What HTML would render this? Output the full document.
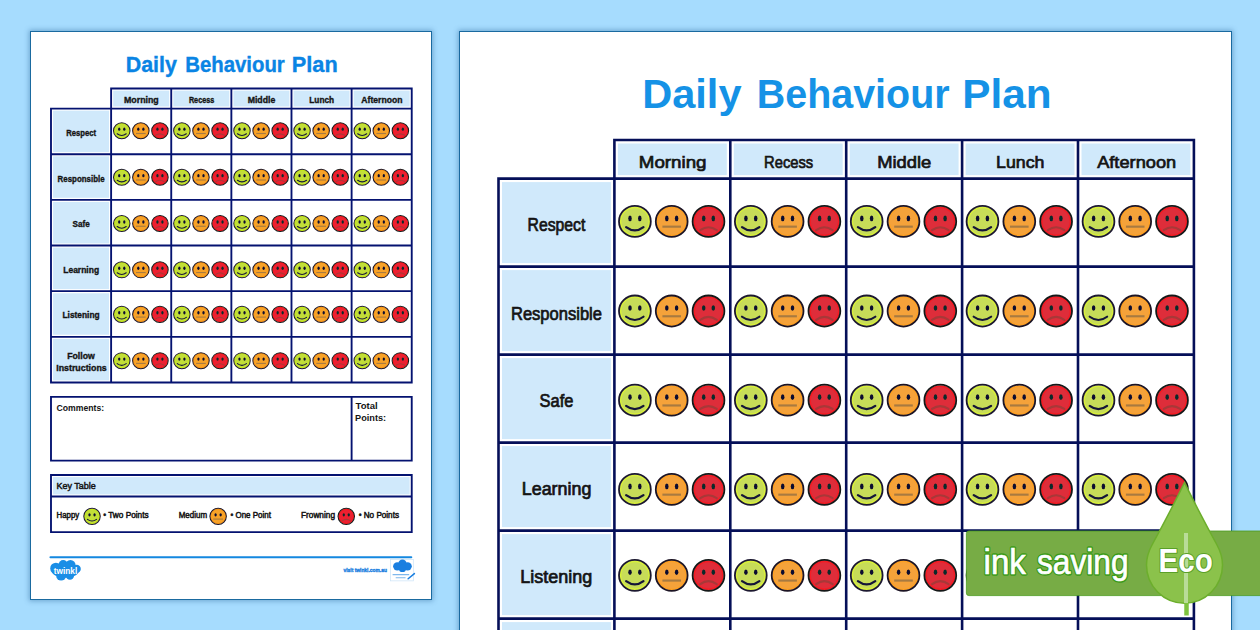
<!DOCTYPE html>
<html><head><meta charset="utf-8"><style>
html,body{margin:0;padding:0;}
body{width:1260px;height:630px;overflow:hidden;background:#a6dcfe;position:relative;font-family:"Liberation Sans", sans-serif;}
.pg{position:absolute;background:#fff;box-shadow:0 0 0 1px #1a6aa0, 0 0 5px 2px rgba(40,100,150,0.45);}
svg{display:block;}
</style></head><body>
<div class="pg" style="left:31px;top:32px;width:400px;height:567px;">
<svg width="400" height="567" viewBox="0 -1 771 1093"><rect x="0" y="0" width="771" height="1093" fill="#fff"/>
<text transform="translate(182.58,76.20) scale(1.0060,1)" font-family="Liberation Sans" font-weight="bold" font-size="41" fill="#0a84e4" stroke="#0a84e4" stroke-width="0.7" >Daily</text>
<text transform="translate(297.22,76.20) scale(0.9578,1)" font-family="Liberation Sans" font-weight="bold" font-size="41" fill="#0a84e4" stroke="#0a84e4" stroke-width="0.7" >Behaviour</text>
<text transform="translate(502.74,76.20) scale(1.0228,1)" font-family="Liberation Sans" font-weight="bold" font-size="41" fill="#0a84e4" stroke="#0a84e4" stroke-width="0.7" >Plan</text>
<rect x="158.4" y="112.0" width="107.9" height="30.6" fill="#d0e9fb"/>
<rect x="274.3" y="112.0" width="107.9" height="30.6" fill="#d0e9fb"/>
<rect x="390.2" y="112.0" width="107.9" height="30.6" fill="#d0e9fb"/>
<rect x="506.1" y="112.0" width="107.9" height="30.6" fill="#d0e9fb"/>
<rect x="622.0" y="112.0" width="107.9" height="30.6" fill="#d0e9fb"/>
<rect x="42.5" y="150.6" width="107.9" height="80.0" fill="#d0e9fb"/>
<rect x="42.5" y="238.6" width="107.9" height="80.0" fill="#d0e9fb"/>
<rect x="42.5" y="326.6" width="107.9" height="80.0" fill="#d0e9fb"/>
<rect x="42.5" y="414.6" width="107.9" height="80.0" fill="#d0e9fb"/>
<rect x="42.5" y="502.6" width="107.9" height="80.0" fill="#d0e9fb"/>
<rect x="42.5" y="590.6" width="107.9" height="80.0" fill="#d0e9fb"/>
<path d="M154.4,108.0H733.9000000000001M38.5,146.60H733.9000000000001M38.5,234.60H733.9000000000001M38.5,322.60H733.9000000000001M38.5,410.60H733.9000000000001M38.5,498.60H733.9000000000001M38.5,586.60H733.9000000000001M38.5,674.60H733.9000000000001M38.50,146.6V674.60M154.40,108.0V674.60M270.30,108.0V674.60M386.20,108.0V674.60M502.10,108.0V674.60M618.00,108.0V674.60M733.90,108.0V674.60" fill="none" stroke="#041270" stroke-width="3.6" stroke-linecap="square"/>
<text transform="translate(179.24,135.70) scale(0.9897,1)" font-family="Liberation Sans" font-weight="bold" font-size="17.2" fill="#141414" stroke="#141414" stroke-width="0.7" >Morning</text>
<text transform="translate(304.34,135.70) scale(0.8120,1)" font-family="Liberation Sans" font-weight="bold" font-size="17.2" fill="#141414" stroke="#141414" stroke-width="0.7" >Recess</text>
<text transform="translate(417.55,135.70) scale(0.9805,1)" font-family="Liberation Sans" font-weight="bold" font-size="17.2" fill="#141414" stroke="#141414" stroke-width="0.7" >Middle</text>
<text transform="translate(536.41,135.70) scale(0.9282,1)" font-family="Liberation Sans" font-weight="bold" font-size="17.2" fill="#141414" stroke="#141414" stroke-width="0.7" >Lunch</text>
<text transform="translate(636.79,135.70) scale(0.9642,1)" font-family="Liberation Sans" font-weight="bold" font-size="17.2" fill="#141414" stroke="#141414" stroke-width="0.7" >Afternoon</text>
<text transform="translate(67.80,199.10) scale(0.8464,1)" font-family="Liberation Sans" font-weight="bold" font-size="17.5" fill="#141414" stroke="#141414" stroke-width="0.7" >Respect</text>
<text transform="translate(51.27,287.70) scale(0.8713,1)" font-family="Liberation Sans" font-weight="bold" font-size="17.5" fill="#141414" stroke="#141414" stroke-width="0.7" >Responsible</text>
<text transform="translate(79.90,375.30) scale(0.9003,1)" font-family="Liberation Sans" font-weight="bold" font-size="17.5" fill="#141414" stroke="#141414" stroke-width="0.7" >Safe</text>
<text transform="translate(62.10,463.20) scale(0.9368,1)" font-family="Liberation Sans" font-weight="bold" font-size="17.5" fill="#141414" stroke="#141414" stroke-width="0.7" >Learning</text>
<text transform="translate(60.71,551.20) scale(0.9205,1)" font-family="Liberation Sans" font-weight="bold" font-size="17.5" fill="#141414" stroke="#141414" stroke-width="0.7" >Listening</text>
<text transform="translate(69.67,629.00) scale(0.9604,1)" font-family="Liberation Sans" font-weight="bold" font-size="17.5" fill="#141414" stroke="#141414" stroke-width="0.7" >Follow</text>
<text transform="translate(48.55,653.00) scale(0.9740,1)" font-family="Liberation Sans" font-weight="bold" font-size="17.5" fill="#141414" stroke="#141414" stroke-width="0.7" >Instructions</text>
<g transform="translate(174.9,189.4) scale(1,0.975)"> <circle r="15.2" fill="#c2de38"/> <circle r="14.3" fill="none" stroke="#c8f000" stroke-width="1.6"/> <circle r="15.9" fill="none" stroke="#1c1830" stroke-width="2.0"/> <ellipse cx="-4.9" cy="-3.1" rx="2.2" ry="3.3" fill="#0c0c30"/> <ellipse cx="4.9" cy="-3.1" rx="2.2" ry="3.3" fill="#0c0c30"/> <path d="M-8.8,5.9 Q0,12.6 8.6,5.9" fill="none" stroke="#141438" stroke-width="2.2" stroke-linecap="round"/></g>
<g transform="translate(211.7,189.4) scale(1,0.975)"> <circle r="15.2" fill="#f7a228"/> <circle r="14.4" fill="none" stroke="#ff8c00" stroke-width="1.4"/> <circle r="15.9" fill="none" stroke="#1c1424" stroke-width="2.0"/> <ellipse cx="-4.9" cy="-3.1" rx="2.2" ry="3.3" fill="#0c0c30"/> <ellipse cx="4.9" cy="-3.1" rx="2.2" ry="3.3" fill="#0c0c30"/> <path d="M-9.3,5.4 L9.3,5.4" fill="none" stroke="#a87a40" stroke-width="2.2"/></g>
<g transform="translate(248.5,189.4) scale(1,0.975)"> <circle r="15.2" fill="#ec2030"/> <circle r="14.3" fill="none" stroke="#ff1010" stroke-width="1.6"/> <circle r="15.9" fill="none" stroke="#141818" stroke-width="2.0"/> <ellipse cx="-4.8" cy="-3.1" rx="2.2" ry="3.3" fill="#0a2a2a"/> <ellipse cx="4.8" cy="-3.1" rx="2.2" ry="3.3" fill="#0a2a2a"/> <path d="M-8.2,9 Q0,3 8.2,9" fill="none" stroke="#a83838" stroke-width="2.2" stroke-linecap="round"/></g>
<g transform="translate(290.8,189.4) scale(1,0.975)"> <circle r="15.2" fill="#c2de38"/> <circle r="14.3" fill="none" stroke="#c8f000" stroke-width="1.6"/> <circle r="15.9" fill="none" stroke="#1c1830" stroke-width="2.0"/> <ellipse cx="-4.9" cy="-3.1" rx="2.2" ry="3.3" fill="#0c0c30"/> <ellipse cx="4.9" cy="-3.1" rx="2.2" ry="3.3" fill="#0c0c30"/> <path d="M-8.8,5.9 Q0,12.6 8.6,5.9" fill="none" stroke="#141438" stroke-width="2.2" stroke-linecap="round"/></g>
<g transform="translate(327.6,189.4) scale(1,0.975)"> <circle r="15.2" fill="#f7a228"/> <circle r="14.4" fill="none" stroke="#ff8c00" stroke-width="1.4"/> <circle r="15.9" fill="none" stroke="#1c1424" stroke-width="2.0"/> <ellipse cx="-4.9" cy="-3.1" rx="2.2" ry="3.3" fill="#0c0c30"/> <ellipse cx="4.9" cy="-3.1" rx="2.2" ry="3.3" fill="#0c0c30"/> <path d="M-9.3,5.4 L9.3,5.4" fill="none" stroke="#a87a40" stroke-width="2.2"/></g>
<g transform="translate(364.4,189.4) scale(1,0.975)"> <circle r="15.2" fill="#ec2030"/> <circle r="14.3" fill="none" stroke="#ff1010" stroke-width="1.6"/> <circle r="15.9" fill="none" stroke="#141818" stroke-width="2.0"/> <ellipse cx="-4.8" cy="-3.1" rx="2.2" ry="3.3" fill="#0a2a2a"/> <ellipse cx="4.8" cy="-3.1" rx="2.2" ry="3.3" fill="#0a2a2a"/> <path d="M-8.2,9 Q0,3 8.2,9" fill="none" stroke="#a83838" stroke-width="2.2" stroke-linecap="round"/></g>
<g transform="translate(406.7,189.4) scale(1,0.975)"> <circle r="15.2" fill="#c2de38"/> <circle r="14.3" fill="none" stroke="#c8f000" stroke-width="1.6"/> <circle r="15.9" fill="none" stroke="#1c1830" stroke-width="2.0"/> <ellipse cx="-4.9" cy="-3.1" rx="2.2" ry="3.3" fill="#0c0c30"/> <ellipse cx="4.9" cy="-3.1" rx="2.2" ry="3.3" fill="#0c0c30"/> <path d="M-8.8,5.9 Q0,12.6 8.6,5.9" fill="none" stroke="#141438" stroke-width="2.2" stroke-linecap="round"/></g>
<g transform="translate(443.5,189.4) scale(1,0.975)"> <circle r="15.2" fill="#f7a228"/> <circle r="14.4" fill="none" stroke="#ff8c00" stroke-width="1.4"/> <circle r="15.9" fill="none" stroke="#1c1424" stroke-width="2.0"/> <ellipse cx="-4.9" cy="-3.1" rx="2.2" ry="3.3" fill="#0c0c30"/> <ellipse cx="4.9" cy="-3.1" rx="2.2" ry="3.3" fill="#0c0c30"/> <path d="M-9.3,5.4 L9.3,5.4" fill="none" stroke="#a87a40" stroke-width="2.2"/></g>
<g transform="translate(480.3,189.4) scale(1,0.975)"> <circle r="15.2" fill="#ec2030"/> <circle r="14.3" fill="none" stroke="#ff1010" stroke-width="1.6"/> <circle r="15.9" fill="none" stroke="#141818" stroke-width="2.0"/> <ellipse cx="-4.8" cy="-3.1" rx="2.2" ry="3.3" fill="#0a2a2a"/> <ellipse cx="4.8" cy="-3.1" rx="2.2" ry="3.3" fill="#0a2a2a"/> <path d="M-8.2,9 Q0,3 8.2,9" fill="none" stroke="#a83838" stroke-width="2.2" stroke-linecap="round"/></g>
<g transform="translate(522.5,189.4) scale(1,0.975)"> <circle r="15.2" fill="#c2de38"/> <circle r="14.3" fill="none" stroke="#c8f000" stroke-width="1.6"/> <circle r="15.9" fill="none" stroke="#1c1830" stroke-width="2.0"/> <ellipse cx="-4.9" cy="-3.1" rx="2.2" ry="3.3" fill="#0c0c30"/> <ellipse cx="4.9" cy="-3.1" rx="2.2" ry="3.3" fill="#0c0c30"/> <path d="M-8.8,5.9 Q0,12.6 8.6,5.9" fill="none" stroke="#141438" stroke-width="2.2" stroke-linecap="round"/></g>
<g transform="translate(559.3,189.4) scale(1,0.975)"> <circle r="15.2" fill="#f7a228"/> <circle r="14.4" fill="none" stroke="#ff8c00" stroke-width="1.4"/> <circle r="15.9" fill="none" stroke="#1c1424" stroke-width="2.0"/> <ellipse cx="-4.9" cy="-3.1" rx="2.2" ry="3.3" fill="#0c0c30"/> <ellipse cx="4.9" cy="-3.1" rx="2.2" ry="3.3" fill="#0c0c30"/> <path d="M-9.3,5.4 L9.3,5.4" fill="none" stroke="#a87a40" stroke-width="2.2"/></g>
<g transform="translate(596.1,189.4) scale(1,0.975)"> <circle r="15.2" fill="#ec2030"/> <circle r="14.3" fill="none" stroke="#ff1010" stroke-width="1.6"/> <circle r="15.9" fill="none" stroke="#141818" stroke-width="2.0"/> <ellipse cx="-4.8" cy="-3.1" rx="2.2" ry="3.3" fill="#0a2a2a"/> <ellipse cx="4.8" cy="-3.1" rx="2.2" ry="3.3" fill="#0a2a2a"/> <path d="M-8.2,9 Q0,3 8.2,9" fill="none" stroke="#a83838" stroke-width="2.2" stroke-linecap="round"/></g>
<g transform="translate(638.5,189.4) scale(1,0.975)"> <circle r="15.2" fill="#c2de38"/> <circle r="14.3" fill="none" stroke="#c8f000" stroke-width="1.6"/> <circle r="15.9" fill="none" stroke="#1c1830" stroke-width="2.0"/> <ellipse cx="-4.9" cy="-3.1" rx="2.2" ry="3.3" fill="#0c0c30"/> <ellipse cx="4.9" cy="-3.1" rx="2.2" ry="3.3" fill="#0c0c30"/> <path d="M-8.8,5.9 Q0,12.6 8.6,5.9" fill="none" stroke="#141438" stroke-width="2.2" stroke-linecap="round"/></g>
<g transform="translate(675.2,189.4) scale(1,0.975)"> <circle r="15.2" fill="#f7a228"/> <circle r="14.4" fill="none" stroke="#ff8c00" stroke-width="1.4"/> <circle r="15.9" fill="none" stroke="#1c1424" stroke-width="2.0"/> <ellipse cx="-4.9" cy="-3.1" rx="2.2" ry="3.3" fill="#0c0c30"/> <ellipse cx="4.9" cy="-3.1" rx="2.2" ry="3.3" fill="#0c0c30"/> <path d="M-9.3,5.4 L9.3,5.4" fill="none" stroke="#a87a40" stroke-width="2.2"/></g>
<g transform="translate(712.0,189.4) scale(1,0.975)"> <circle r="15.2" fill="#ec2030"/> <circle r="14.3" fill="none" stroke="#ff1010" stroke-width="1.6"/> <circle r="15.9" fill="none" stroke="#141818" stroke-width="2.0"/> <ellipse cx="-4.8" cy="-3.1" rx="2.2" ry="3.3" fill="#0a2a2a"/> <ellipse cx="4.8" cy="-3.1" rx="2.2" ry="3.3" fill="#0a2a2a"/> <path d="M-8.2,9 Q0,3 8.2,9" fill="none" stroke="#a83838" stroke-width="2.2" stroke-linecap="round"/></g>
<g transform="translate(174.9,279.0) scale(1,0.975)"> <circle r="15.2" fill="#c2de38"/> <circle r="14.3" fill="none" stroke="#c8f000" stroke-width="1.6"/> <circle r="15.9" fill="none" stroke="#1c1830" stroke-width="2.0"/> <ellipse cx="-4.9" cy="-3.1" rx="2.2" ry="3.3" fill="#0c0c30"/> <ellipse cx="4.9" cy="-3.1" rx="2.2" ry="3.3" fill="#0c0c30"/> <path d="M-8.8,5.9 Q0,12.6 8.6,5.9" fill="none" stroke="#141438" stroke-width="2.2" stroke-linecap="round"/></g>
<g transform="translate(211.7,279.0) scale(1,0.975)"> <circle r="15.2" fill="#f7a228"/> <circle r="14.4" fill="none" stroke="#ff8c00" stroke-width="1.4"/> <circle r="15.9" fill="none" stroke="#1c1424" stroke-width="2.0"/> <ellipse cx="-4.9" cy="-3.1" rx="2.2" ry="3.3" fill="#0c0c30"/> <ellipse cx="4.9" cy="-3.1" rx="2.2" ry="3.3" fill="#0c0c30"/> <path d="M-9.3,5.4 L9.3,5.4" fill="none" stroke="#a87a40" stroke-width="2.2"/></g>
<g transform="translate(248.5,279.0) scale(1,0.975)"> <circle r="15.2" fill="#ec2030"/> <circle r="14.3" fill="none" stroke="#ff1010" stroke-width="1.6"/> <circle r="15.9" fill="none" stroke="#141818" stroke-width="2.0"/> <ellipse cx="-4.8" cy="-3.1" rx="2.2" ry="3.3" fill="#0a2a2a"/> <ellipse cx="4.8" cy="-3.1" rx="2.2" ry="3.3" fill="#0a2a2a"/> <path d="M-8.2,9 Q0,3 8.2,9" fill="none" stroke="#a83838" stroke-width="2.2" stroke-linecap="round"/></g>
<g transform="translate(290.8,279.0) scale(1,0.975)"> <circle r="15.2" fill="#c2de38"/> <circle r="14.3" fill="none" stroke="#c8f000" stroke-width="1.6"/> <circle r="15.9" fill="none" stroke="#1c1830" stroke-width="2.0"/> <ellipse cx="-4.9" cy="-3.1" rx="2.2" ry="3.3" fill="#0c0c30"/> <ellipse cx="4.9" cy="-3.1" rx="2.2" ry="3.3" fill="#0c0c30"/> <path d="M-8.8,5.9 Q0,12.6 8.6,5.9" fill="none" stroke="#141438" stroke-width="2.2" stroke-linecap="round"/></g>
<g transform="translate(327.6,279.0) scale(1,0.975)"> <circle r="15.2" fill="#f7a228"/> <circle r="14.4" fill="none" stroke="#ff8c00" stroke-width="1.4"/> <circle r="15.9" fill="none" stroke="#1c1424" stroke-width="2.0"/> <ellipse cx="-4.9" cy="-3.1" rx="2.2" ry="3.3" fill="#0c0c30"/> <ellipse cx="4.9" cy="-3.1" rx="2.2" ry="3.3" fill="#0c0c30"/> <path d="M-9.3,5.4 L9.3,5.4" fill="none" stroke="#a87a40" stroke-width="2.2"/></g>
<g transform="translate(364.4,279.0) scale(1,0.975)"> <circle r="15.2" fill="#ec2030"/> <circle r="14.3" fill="none" stroke="#ff1010" stroke-width="1.6"/> <circle r="15.9" fill="none" stroke="#141818" stroke-width="2.0"/> <ellipse cx="-4.8" cy="-3.1" rx="2.2" ry="3.3" fill="#0a2a2a"/> <ellipse cx="4.8" cy="-3.1" rx="2.2" ry="3.3" fill="#0a2a2a"/> <path d="M-8.2,9 Q0,3 8.2,9" fill="none" stroke="#a83838" stroke-width="2.2" stroke-linecap="round"/></g>
<g transform="translate(406.7,279.0) scale(1,0.975)"> <circle r="15.2" fill="#c2de38"/> <circle r="14.3" fill="none" stroke="#c8f000" stroke-width="1.6"/> <circle r="15.9" fill="none" stroke="#1c1830" stroke-width="2.0"/> <ellipse cx="-4.9" cy="-3.1" rx="2.2" ry="3.3" fill="#0c0c30"/> <ellipse cx="4.9" cy="-3.1" rx="2.2" ry="3.3" fill="#0c0c30"/> <path d="M-8.8,5.9 Q0,12.6 8.6,5.9" fill="none" stroke="#141438" stroke-width="2.2" stroke-linecap="round"/></g>
<g transform="translate(443.5,279.0) scale(1,0.975)"> <circle r="15.2" fill="#f7a228"/> <circle r="14.4" fill="none" stroke="#ff8c00" stroke-width="1.4"/> <circle r="15.9" fill="none" stroke="#1c1424" stroke-width="2.0"/> <ellipse cx="-4.9" cy="-3.1" rx="2.2" ry="3.3" fill="#0c0c30"/> <ellipse cx="4.9" cy="-3.1" rx="2.2" ry="3.3" fill="#0c0c30"/> <path d="M-9.3,5.4 L9.3,5.4" fill="none" stroke="#a87a40" stroke-width="2.2"/></g>
<g transform="translate(480.3,279.0) scale(1,0.975)"> <circle r="15.2" fill="#ec2030"/> <circle r="14.3" fill="none" stroke="#ff1010" stroke-width="1.6"/> <circle r="15.9" fill="none" stroke="#141818" stroke-width="2.0"/> <ellipse cx="-4.8" cy="-3.1" rx="2.2" ry="3.3" fill="#0a2a2a"/> <ellipse cx="4.8" cy="-3.1" rx="2.2" ry="3.3" fill="#0a2a2a"/> <path d="M-8.2,9 Q0,3 8.2,9" fill="none" stroke="#a83838" stroke-width="2.2" stroke-linecap="round"/></g>
<g transform="translate(522.5,279.0) scale(1,0.975)"> <circle r="15.2" fill="#c2de38"/> <circle r="14.3" fill="none" stroke="#c8f000" stroke-width="1.6"/> <circle r="15.9" fill="none" stroke="#1c1830" stroke-width="2.0"/> <ellipse cx="-4.9" cy="-3.1" rx="2.2" ry="3.3" fill="#0c0c30"/> <ellipse cx="4.9" cy="-3.1" rx="2.2" ry="3.3" fill="#0c0c30"/> <path d="M-8.8,5.9 Q0,12.6 8.6,5.9" fill="none" stroke="#141438" stroke-width="2.2" stroke-linecap="round"/></g>
<g transform="translate(559.3,279.0) scale(1,0.975)"> <circle r="15.2" fill="#f7a228"/> <circle r="14.4" fill="none" stroke="#ff8c00" stroke-width="1.4"/> <circle r="15.9" fill="none" stroke="#1c1424" stroke-width="2.0"/> <ellipse cx="-4.9" cy="-3.1" rx="2.2" ry="3.3" fill="#0c0c30"/> <ellipse cx="4.9" cy="-3.1" rx="2.2" ry="3.3" fill="#0c0c30"/> <path d="M-9.3,5.4 L9.3,5.4" fill="none" stroke="#a87a40" stroke-width="2.2"/></g>
<g transform="translate(596.1,279.0) scale(1,0.975)"> <circle r="15.2" fill="#ec2030"/> <circle r="14.3" fill="none" stroke="#ff1010" stroke-width="1.6"/> <circle r="15.9" fill="none" stroke="#141818" stroke-width="2.0"/> <ellipse cx="-4.8" cy="-3.1" rx="2.2" ry="3.3" fill="#0a2a2a"/> <ellipse cx="4.8" cy="-3.1" rx="2.2" ry="3.3" fill="#0a2a2a"/> <path d="M-8.2,9 Q0,3 8.2,9" fill="none" stroke="#a83838" stroke-width="2.2" stroke-linecap="round"/></g>
<g transform="translate(638.5,279.0) scale(1,0.975)"> <circle r="15.2" fill="#c2de38"/> <circle r="14.3" fill="none" stroke="#c8f000" stroke-width="1.6"/> <circle r="15.9" fill="none" stroke="#1c1830" stroke-width="2.0"/> <ellipse cx="-4.9" cy="-3.1" rx="2.2" ry="3.3" fill="#0c0c30"/> <ellipse cx="4.9" cy="-3.1" rx="2.2" ry="3.3" fill="#0c0c30"/> <path d="M-8.8,5.9 Q0,12.6 8.6,5.9" fill="none" stroke="#141438" stroke-width="2.2" stroke-linecap="round"/></g>
<g transform="translate(675.2,279.0) scale(1,0.975)"> <circle r="15.2" fill="#f7a228"/> <circle r="14.4" fill="none" stroke="#ff8c00" stroke-width="1.4"/> <circle r="15.9" fill="none" stroke="#1c1424" stroke-width="2.0"/> <ellipse cx="-4.9" cy="-3.1" rx="2.2" ry="3.3" fill="#0c0c30"/> <ellipse cx="4.9" cy="-3.1" rx="2.2" ry="3.3" fill="#0c0c30"/> <path d="M-9.3,5.4 L9.3,5.4" fill="none" stroke="#a87a40" stroke-width="2.2"/></g>
<g transform="translate(712.0,279.0) scale(1,0.975)"> <circle r="15.2" fill="#ec2030"/> <circle r="14.3" fill="none" stroke="#ff1010" stroke-width="1.6"/> <circle r="15.9" fill="none" stroke="#141818" stroke-width="2.0"/> <ellipse cx="-4.8" cy="-3.1" rx="2.2" ry="3.3" fill="#0a2a2a"/> <ellipse cx="4.8" cy="-3.1" rx="2.2" ry="3.3" fill="#0a2a2a"/> <path d="M-8.2,9 Q0,3 8.2,9" fill="none" stroke="#a83838" stroke-width="2.2" stroke-linecap="round"/></g>
<g transform="translate(174.9,368.2) scale(1,0.975)"> <circle r="15.2" fill="#c2de38"/> <circle r="14.3" fill="none" stroke="#c8f000" stroke-width="1.6"/> <circle r="15.9" fill="none" stroke="#1c1830" stroke-width="2.0"/> <ellipse cx="-4.9" cy="-3.1" rx="2.2" ry="3.3" fill="#0c0c30"/> <ellipse cx="4.9" cy="-3.1" rx="2.2" ry="3.3" fill="#0c0c30"/> <path d="M-8.8,5.9 Q0,12.6 8.6,5.9" fill="none" stroke="#141438" stroke-width="2.2" stroke-linecap="round"/></g>
<g transform="translate(211.7,368.2) scale(1,0.975)"> <circle r="15.2" fill="#f7a228"/> <circle r="14.4" fill="none" stroke="#ff8c00" stroke-width="1.4"/> <circle r="15.9" fill="none" stroke="#1c1424" stroke-width="2.0"/> <ellipse cx="-4.9" cy="-3.1" rx="2.2" ry="3.3" fill="#0c0c30"/> <ellipse cx="4.9" cy="-3.1" rx="2.2" ry="3.3" fill="#0c0c30"/> <path d="M-9.3,5.4 L9.3,5.4" fill="none" stroke="#a87a40" stroke-width="2.2"/></g>
<g transform="translate(248.5,368.2) scale(1,0.975)"> <circle r="15.2" fill="#ec2030"/> <circle r="14.3" fill="none" stroke="#ff1010" stroke-width="1.6"/> <circle r="15.9" fill="none" stroke="#141818" stroke-width="2.0"/> <ellipse cx="-4.8" cy="-3.1" rx="2.2" ry="3.3" fill="#0a2a2a"/> <ellipse cx="4.8" cy="-3.1" rx="2.2" ry="3.3" fill="#0a2a2a"/> <path d="M-8.2,9 Q0,3 8.2,9" fill="none" stroke="#a83838" stroke-width="2.2" stroke-linecap="round"/></g>
<g transform="translate(290.8,368.2) scale(1,0.975)"> <circle r="15.2" fill="#c2de38"/> <circle r="14.3" fill="none" stroke="#c8f000" stroke-width="1.6"/> <circle r="15.9" fill="none" stroke="#1c1830" stroke-width="2.0"/> <ellipse cx="-4.9" cy="-3.1" rx="2.2" ry="3.3" fill="#0c0c30"/> <ellipse cx="4.9" cy="-3.1" rx="2.2" ry="3.3" fill="#0c0c30"/> <path d="M-8.8,5.9 Q0,12.6 8.6,5.9" fill="none" stroke="#141438" stroke-width="2.2" stroke-linecap="round"/></g>
<g transform="translate(327.6,368.2) scale(1,0.975)"> <circle r="15.2" fill="#f7a228"/> <circle r="14.4" fill="none" stroke="#ff8c00" stroke-width="1.4"/> <circle r="15.9" fill="none" stroke="#1c1424" stroke-width="2.0"/> <ellipse cx="-4.9" cy="-3.1" rx="2.2" ry="3.3" fill="#0c0c30"/> <ellipse cx="4.9" cy="-3.1" rx="2.2" ry="3.3" fill="#0c0c30"/> <path d="M-9.3,5.4 L9.3,5.4" fill="none" stroke="#a87a40" stroke-width="2.2"/></g>
<g transform="translate(364.4,368.2) scale(1,0.975)"> <circle r="15.2" fill="#ec2030"/> <circle r="14.3" fill="none" stroke="#ff1010" stroke-width="1.6"/> <circle r="15.9" fill="none" stroke="#141818" stroke-width="2.0"/> <ellipse cx="-4.8" cy="-3.1" rx="2.2" ry="3.3" fill="#0a2a2a"/> <ellipse cx="4.8" cy="-3.1" rx="2.2" ry="3.3" fill="#0a2a2a"/> <path d="M-8.2,9 Q0,3 8.2,9" fill="none" stroke="#a83838" stroke-width="2.2" stroke-linecap="round"/></g>
<g transform="translate(406.7,368.2) scale(1,0.975)"> <circle r="15.2" fill="#c2de38"/> <circle r="14.3" fill="none" stroke="#c8f000" stroke-width="1.6"/> <circle r="15.9" fill="none" stroke="#1c1830" stroke-width="2.0"/> <ellipse cx="-4.9" cy="-3.1" rx="2.2" ry="3.3" fill="#0c0c30"/> <ellipse cx="4.9" cy="-3.1" rx="2.2" ry="3.3" fill="#0c0c30"/> <path d="M-8.8,5.9 Q0,12.6 8.6,5.9" fill="none" stroke="#141438" stroke-width="2.2" stroke-linecap="round"/></g>
<g transform="translate(443.5,368.2) scale(1,0.975)"> <circle r="15.2" fill="#f7a228"/> <circle r="14.4" fill="none" stroke="#ff8c00" stroke-width="1.4"/> <circle r="15.9" fill="none" stroke="#1c1424" stroke-width="2.0"/> <ellipse cx="-4.9" cy="-3.1" rx="2.2" ry="3.3" fill="#0c0c30"/> <ellipse cx="4.9" cy="-3.1" rx="2.2" ry="3.3" fill="#0c0c30"/> <path d="M-9.3,5.4 L9.3,5.4" fill="none" stroke="#a87a40" stroke-width="2.2"/></g>
<g transform="translate(480.3,368.2) scale(1,0.975)"> <circle r="15.2" fill="#ec2030"/> <circle r="14.3" fill="none" stroke="#ff1010" stroke-width="1.6"/> <circle r="15.9" fill="none" stroke="#141818" stroke-width="2.0"/> <ellipse cx="-4.8" cy="-3.1" rx="2.2" ry="3.3" fill="#0a2a2a"/> <ellipse cx="4.8" cy="-3.1" rx="2.2" ry="3.3" fill="#0a2a2a"/> <path d="M-8.2,9 Q0,3 8.2,9" fill="none" stroke="#a83838" stroke-width="2.2" stroke-linecap="round"/></g>
<g transform="translate(522.5,368.2) scale(1,0.975)"> <circle r="15.2" fill="#c2de38"/> <circle r="14.3" fill="none" stroke="#c8f000" stroke-width="1.6"/> <circle r="15.9" fill="none" stroke="#1c1830" stroke-width="2.0"/> <ellipse cx="-4.9" cy="-3.1" rx="2.2" ry="3.3" fill="#0c0c30"/> <ellipse cx="4.9" cy="-3.1" rx="2.2" ry="3.3" fill="#0c0c30"/> <path d="M-8.8,5.9 Q0,12.6 8.6,5.9" fill="none" stroke="#141438" stroke-width="2.2" stroke-linecap="round"/></g>
<g transform="translate(559.3,368.2) scale(1,0.975)"> <circle r="15.2" fill="#f7a228"/> <circle r="14.4" fill="none" stroke="#ff8c00" stroke-width="1.4"/> <circle r="15.9" fill="none" stroke="#1c1424" stroke-width="2.0"/> <ellipse cx="-4.9" cy="-3.1" rx="2.2" ry="3.3" fill="#0c0c30"/> <ellipse cx="4.9" cy="-3.1" rx="2.2" ry="3.3" fill="#0c0c30"/> <path d="M-9.3,5.4 L9.3,5.4" fill="none" stroke="#a87a40" stroke-width="2.2"/></g>
<g transform="translate(596.1,368.2) scale(1,0.975)"> <circle r="15.2" fill="#ec2030"/> <circle r="14.3" fill="none" stroke="#ff1010" stroke-width="1.6"/> <circle r="15.9" fill="none" stroke="#141818" stroke-width="2.0"/> <ellipse cx="-4.8" cy="-3.1" rx="2.2" ry="3.3" fill="#0a2a2a"/> <ellipse cx="4.8" cy="-3.1" rx="2.2" ry="3.3" fill="#0a2a2a"/> <path d="M-8.2,9 Q0,3 8.2,9" fill="none" stroke="#a83838" stroke-width="2.2" stroke-linecap="round"/></g>
<g transform="translate(638.5,368.2) scale(1,0.975)"> <circle r="15.2" fill="#c2de38"/> <circle r="14.3" fill="none" stroke="#c8f000" stroke-width="1.6"/> <circle r="15.9" fill="none" stroke="#1c1830" stroke-width="2.0"/> <ellipse cx="-4.9" cy="-3.1" rx="2.2" ry="3.3" fill="#0c0c30"/> <ellipse cx="4.9" cy="-3.1" rx="2.2" ry="3.3" fill="#0c0c30"/> <path d="M-8.8,5.9 Q0,12.6 8.6,5.9" fill="none" stroke="#141438" stroke-width="2.2" stroke-linecap="round"/></g>
<g transform="translate(675.2,368.2) scale(1,0.975)"> <circle r="15.2" fill="#f7a228"/> <circle r="14.4" fill="none" stroke="#ff8c00" stroke-width="1.4"/> <circle r="15.9" fill="none" stroke="#1c1424" stroke-width="2.0"/> <ellipse cx="-4.9" cy="-3.1" rx="2.2" ry="3.3" fill="#0c0c30"/> <ellipse cx="4.9" cy="-3.1" rx="2.2" ry="3.3" fill="#0c0c30"/> <path d="M-9.3,5.4 L9.3,5.4" fill="none" stroke="#a87a40" stroke-width="2.2"/></g>
<g transform="translate(712.0,368.2) scale(1,0.975)"> <circle r="15.2" fill="#ec2030"/> <circle r="14.3" fill="none" stroke="#ff1010" stroke-width="1.6"/> <circle r="15.9" fill="none" stroke="#141818" stroke-width="2.0"/> <ellipse cx="-4.8" cy="-3.1" rx="2.2" ry="3.3" fill="#0a2a2a"/> <ellipse cx="4.8" cy="-3.1" rx="2.2" ry="3.3" fill="#0a2a2a"/> <path d="M-8.2,9 Q0,3 8.2,9" fill="none" stroke="#a83838" stroke-width="2.2" stroke-linecap="round"/></g>
<g transform="translate(174.9,457.4) scale(1,0.975)"> <circle r="15.2" fill="#c2de38"/> <circle r="14.3" fill="none" stroke="#c8f000" stroke-width="1.6"/> <circle r="15.9" fill="none" stroke="#1c1830" stroke-width="2.0"/> <ellipse cx="-4.9" cy="-3.1" rx="2.2" ry="3.3" fill="#0c0c30"/> <ellipse cx="4.9" cy="-3.1" rx="2.2" ry="3.3" fill="#0c0c30"/> <path d="M-8.8,5.9 Q0,12.6 8.6,5.9" fill="none" stroke="#141438" stroke-width="2.2" stroke-linecap="round"/></g>
<g transform="translate(211.7,457.4) scale(1,0.975)"> <circle r="15.2" fill="#f7a228"/> <circle r="14.4" fill="none" stroke="#ff8c00" stroke-width="1.4"/> <circle r="15.9" fill="none" stroke="#1c1424" stroke-width="2.0"/> <ellipse cx="-4.9" cy="-3.1" rx="2.2" ry="3.3" fill="#0c0c30"/> <ellipse cx="4.9" cy="-3.1" rx="2.2" ry="3.3" fill="#0c0c30"/> <path d="M-9.3,5.4 L9.3,5.4" fill="none" stroke="#a87a40" stroke-width="2.2"/></g>
<g transform="translate(248.5,457.4) scale(1,0.975)"> <circle r="15.2" fill="#ec2030"/> <circle r="14.3" fill="none" stroke="#ff1010" stroke-width="1.6"/> <circle r="15.9" fill="none" stroke="#141818" stroke-width="2.0"/> <ellipse cx="-4.8" cy="-3.1" rx="2.2" ry="3.3" fill="#0a2a2a"/> <ellipse cx="4.8" cy="-3.1" rx="2.2" ry="3.3" fill="#0a2a2a"/> <path d="M-8.2,9 Q0,3 8.2,9" fill="none" stroke="#a83838" stroke-width="2.2" stroke-linecap="round"/></g>
<g transform="translate(290.8,457.4) scale(1,0.975)"> <circle r="15.2" fill="#c2de38"/> <circle r="14.3" fill="none" stroke="#c8f000" stroke-width="1.6"/> <circle r="15.9" fill="none" stroke="#1c1830" stroke-width="2.0"/> <ellipse cx="-4.9" cy="-3.1" rx="2.2" ry="3.3" fill="#0c0c30"/> <ellipse cx="4.9" cy="-3.1" rx="2.2" ry="3.3" fill="#0c0c30"/> <path d="M-8.8,5.9 Q0,12.6 8.6,5.9" fill="none" stroke="#141438" stroke-width="2.2" stroke-linecap="round"/></g>
<g transform="translate(327.6,457.4) scale(1,0.975)"> <circle r="15.2" fill="#f7a228"/> <circle r="14.4" fill="none" stroke="#ff8c00" stroke-width="1.4"/> <circle r="15.9" fill="none" stroke="#1c1424" stroke-width="2.0"/> <ellipse cx="-4.9" cy="-3.1" rx="2.2" ry="3.3" fill="#0c0c30"/> <ellipse cx="4.9" cy="-3.1" rx="2.2" ry="3.3" fill="#0c0c30"/> <path d="M-9.3,5.4 L9.3,5.4" fill="none" stroke="#a87a40" stroke-width="2.2"/></g>
<g transform="translate(364.4,457.4) scale(1,0.975)"> <circle r="15.2" fill="#ec2030"/> <circle r="14.3" fill="none" stroke="#ff1010" stroke-width="1.6"/> <circle r="15.9" fill="none" stroke="#141818" stroke-width="2.0"/> <ellipse cx="-4.8" cy="-3.1" rx="2.2" ry="3.3" fill="#0a2a2a"/> <ellipse cx="4.8" cy="-3.1" rx="2.2" ry="3.3" fill="#0a2a2a"/> <path d="M-8.2,9 Q0,3 8.2,9" fill="none" stroke="#a83838" stroke-width="2.2" stroke-linecap="round"/></g>
<g transform="translate(406.7,457.4) scale(1,0.975)"> <circle r="15.2" fill="#c2de38"/> <circle r="14.3" fill="none" stroke="#c8f000" stroke-width="1.6"/> <circle r="15.9" fill="none" stroke="#1c1830" stroke-width="2.0"/> <ellipse cx="-4.9" cy="-3.1" rx="2.2" ry="3.3" fill="#0c0c30"/> <ellipse cx="4.9" cy="-3.1" rx="2.2" ry="3.3" fill="#0c0c30"/> <path d="M-8.8,5.9 Q0,12.6 8.6,5.9" fill="none" stroke="#141438" stroke-width="2.2" stroke-linecap="round"/></g>
<g transform="translate(443.5,457.4) scale(1,0.975)"> <circle r="15.2" fill="#f7a228"/> <circle r="14.4" fill="none" stroke="#ff8c00" stroke-width="1.4"/> <circle r="15.9" fill="none" stroke="#1c1424" stroke-width="2.0"/> <ellipse cx="-4.9" cy="-3.1" rx="2.2" ry="3.3" fill="#0c0c30"/> <ellipse cx="4.9" cy="-3.1" rx="2.2" ry="3.3" fill="#0c0c30"/> <path d="M-9.3,5.4 L9.3,5.4" fill="none" stroke="#a87a40" stroke-width="2.2"/></g>
<g transform="translate(480.3,457.4) scale(1,0.975)"> <circle r="15.2" fill="#ec2030"/> <circle r="14.3" fill="none" stroke="#ff1010" stroke-width="1.6"/> <circle r="15.9" fill="none" stroke="#141818" stroke-width="2.0"/> <ellipse cx="-4.8" cy="-3.1" rx="2.2" ry="3.3" fill="#0a2a2a"/> <ellipse cx="4.8" cy="-3.1" rx="2.2" ry="3.3" fill="#0a2a2a"/> <path d="M-8.2,9 Q0,3 8.2,9" fill="none" stroke="#a83838" stroke-width="2.2" stroke-linecap="round"/></g>
<g transform="translate(522.5,457.4) scale(1,0.975)"> <circle r="15.2" fill="#c2de38"/> <circle r="14.3" fill="none" stroke="#c8f000" stroke-width="1.6"/> <circle r="15.9" fill="none" stroke="#1c1830" stroke-width="2.0"/> <ellipse cx="-4.9" cy="-3.1" rx="2.2" ry="3.3" fill="#0c0c30"/> <ellipse cx="4.9" cy="-3.1" rx="2.2" ry="3.3" fill="#0c0c30"/> <path d="M-8.8,5.9 Q0,12.6 8.6,5.9" fill="none" stroke="#141438" stroke-width="2.2" stroke-linecap="round"/></g>
<g transform="translate(559.3,457.4) scale(1,0.975)"> <circle r="15.2" fill="#f7a228"/> <circle r="14.4" fill="none" stroke="#ff8c00" stroke-width="1.4"/> <circle r="15.9" fill="none" stroke="#1c1424" stroke-width="2.0"/> <ellipse cx="-4.9" cy="-3.1" rx="2.2" ry="3.3" fill="#0c0c30"/> <ellipse cx="4.9" cy="-3.1" rx="2.2" ry="3.3" fill="#0c0c30"/> <path d="M-9.3,5.4 L9.3,5.4" fill="none" stroke="#a87a40" stroke-width="2.2"/></g>
<g transform="translate(596.1,457.4) scale(1,0.975)"> <circle r="15.2" fill="#ec2030"/> <circle r="14.3" fill="none" stroke="#ff1010" stroke-width="1.6"/> <circle r="15.9" fill="none" stroke="#141818" stroke-width="2.0"/> <ellipse cx="-4.8" cy="-3.1" rx="2.2" ry="3.3" fill="#0a2a2a"/> <ellipse cx="4.8" cy="-3.1" rx="2.2" ry="3.3" fill="#0a2a2a"/> <path d="M-8.2,9 Q0,3 8.2,9" fill="none" stroke="#a83838" stroke-width="2.2" stroke-linecap="round"/></g>
<g transform="translate(638.5,457.4) scale(1,0.975)"> <circle r="15.2" fill="#c2de38"/> <circle r="14.3" fill="none" stroke="#c8f000" stroke-width="1.6"/> <circle r="15.9" fill="none" stroke="#1c1830" stroke-width="2.0"/> <ellipse cx="-4.9" cy="-3.1" rx="2.2" ry="3.3" fill="#0c0c30"/> <ellipse cx="4.9" cy="-3.1" rx="2.2" ry="3.3" fill="#0c0c30"/> <path d="M-8.8,5.9 Q0,12.6 8.6,5.9" fill="none" stroke="#141438" stroke-width="2.2" stroke-linecap="round"/></g>
<g transform="translate(675.2,457.4) scale(1,0.975)"> <circle r="15.2" fill="#f7a228"/> <circle r="14.4" fill="none" stroke="#ff8c00" stroke-width="1.4"/> <circle r="15.9" fill="none" stroke="#1c1424" stroke-width="2.0"/> <ellipse cx="-4.9" cy="-3.1" rx="2.2" ry="3.3" fill="#0c0c30"/> <ellipse cx="4.9" cy="-3.1" rx="2.2" ry="3.3" fill="#0c0c30"/> <path d="M-9.3,5.4 L9.3,5.4" fill="none" stroke="#a87a40" stroke-width="2.2"/></g>
<g transform="translate(712.0,457.4) scale(1,0.975)"> <circle r="15.2" fill="#ec2030"/> <circle r="14.3" fill="none" stroke="#ff1010" stroke-width="1.6"/> <circle r="15.9" fill="none" stroke="#141818" stroke-width="2.0"/> <ellipse cx="-4.8" cy="-3.1" rx="2.2" ry="3.3" fill="#0a2a2a"/> <ellipse cx="4.8" cy="-3.1" rx="2.2" ry="3.3" fill="#0a2a2a"/> <path d="M-8.2,9 Q0,3 8.2,9" fill="none" stroke="#a83838" stroke-width="2.2" stroke-linecap="round"/></g>
<g transform="translate(174.9,543.3) scale(1,0.975)"> <circle r="15.2" fill="#c2de38"/> <circle r="14.3" fill="none" stroke="#c8f000" stroke-width="1.6"/> <circle r="15.9" fill="none" stroke="#1c1830" stroke-width="2.0"/> <ellipse cx="-4.9" cy="-3.1" rx="2.2" ry="3.3" fill="#0c0c30"/> <ellipse cx="4.9" cy="-3.1" rx="2.2" ry="3.3" fill="#0c0c30"/> <path d="M-8.8,5.9 Q0,12.6 8.6,5.9" fill="none" stroke="#141438" stroke-width="2.2" stroke-linecap="round"/></g>
<g transform="translate(211.7,543.3) scale(1,0.975)"> <circle r="15.2" fill="#f7a228"/> <circle r="14.4" fill="none" stroke="#ff8c00" stroke-width="1.4"/> <circle r="15.9" fill="none" stroke="#1c1424" stroke-width="2.0"/> <ellipse cx="-4.9" cy="-3.1" rx="2.2" ry="3.3" fill="#0c0c30"/> <ellipse cx="4.9" cy="-3.1" rx="2.2" ry="3.3" fill="#0c0c30"/> <path d="M-9.3,5.4 L9.3,5.4" fill="none" stroke="#a87a40" stroke-width="2.2"/></g>
<g transform="translate(248.5,543.3) scale(1,0.975)"> <circle r="15.2" fill="#ec2030"/> <circle r="14.3" fill="none" stroke="#ff1010" stroke-width="1.6"/> <circle r="15.9" fill="none" stroke="#141818" stroke-width="2.0"/> <ellipse cx="-4.8" cy="-3.1" rx="2.2" ry="3.3" fill="#0a2a2a"/> <ellipse cx="4.8" cy="-3.1" rx="2.2" ry="3.3" fill="#0a2a2a"/> <path d="M-8.2,9 Q0,3 8.2,9" fill="none" stroke="#a83838" stroke-width="2.2" stroke-linecap="round"/></g>
<g transform="translate(290.8,543.3) scale(1,0.975)"> <circle r="15.2" fill="#c2de38"/> <circle r="14.3" fill="none" stroke="#c8f000" stroke-width="1.6"/> <circle r="15.9" fill="none" stroke="#1c1830" stroke-width="2.0"/> <ellipse cx="-4.9" cy="-3.1" rx="2.2" ry="3.3" fill="#0c0c30"/> <ellipse cx="4.9" cy="-3.1" rx="2.2" ry="3.3" fill="#0c0c30"/> <path d="M-8.8,5.9 Q0,12.6 8.6,5.9" fill="none" stroke="#141438" stroke-width="2.2" stroke-linecap="round"/></g>
<g transform="translate(327.6,543.3) scale(1,0.975)"> <circle r="15.2" fill="#f7a228"/> <circle r="14.4" fill="none" stroke="#ff8c00" stroke-width="1.4"/> <circle r="15.9" fill="none" stroke="#1c1424" stroke-width="2.0"/> <ellipse cx="-4.9" cy="-3.1" rx="2.2" ry="3.3" fill="#0c0c30"/> <ellipse cx="4.9" cy="-3.1" rx="2.2" ry="3.3" fill="#0c0c30"/> <path d="M-9.3,5.4 L9.3,5.4" fill="none" stroke="#a87a40" stroke-width="2.2"/></g>
<g transform="translate(364.4,543.3) scale(1,0.975)"> <circle r="15.2" fill="#ec2030"/> <circle r="14.3" fill="none" stroke="#ff1010" stroke-width="1.6"/> <circle r="15.9" fill="none" stroke="#141818" stroke-width="2.0"/> <ellipse cx="-4.8" cy="-3.1" rx="2.2" ry="3.3" fill="#0a2a2a"/> <ellipse cx="4.8" cy="-3.1" rx="2.2" ry="3.3" fill="#0a2a2a"/> <path d="M-8.2,9 Q0,3 8.2,9" fill="none" stroke="#a83838" stroke-width="2.2" stroke-linecap="round"/></g>
<g transform="translate(406.7,543.3) scale(1,0.975)"> <circle r="15.2" fill="#c2de38"/> <circle r="14.3" fill="none" stroke="#c8f000" stroke-width="1.6"/> <circle r="15.9" fill="none" stroke="#1c1830" stroke-width="2.0"/> <ellipse cx="-4.9" cy="-3.1" rx="2.2" ry="3.3" fill="#0c0c30"/> <ellipse cx="4.9" cy="-3.1" rx="2.2" ry="3.3" fill="#0c0c30"/> <path d="M-8.8,5.9 Q0,12.6 8.6,5.9" fill="none" stroke="#141438" stroke-width="2.2" stroke-linecap="round"/></g>
<g transform="translate(443.5,543.3) scale(1,0.975)"> <circle r="15.2" fill="#f7a228"/> <circle r="14.4" fill="none" stroke="#ff8c00" stroke-width="1.4"/> <circle r="15.9" fill="none" stroke="#1c1424" stroke-width="2.0"/> <ellipse cx="-4.9" cy="-3.1" rx="2.2" ry="3.3" fill="#0c0c30"/> <ellipse cx="4.9" cy="-3.1" rx="2.2" ry="3.3" fill="#0c0c30"/> <path d="M-9.3,5.4 L9.3,5.4" fill="none" stroke="#a87a40" stroke-width="2.2"/></g>
<g transform="translate(480.3,543.3) scale(1,0.975)"> <circle r="15.2" fill="#ec2030"/> <circle r="14.3" fill="none" stroke="#ff1010" stroke-width="1.6"/> <circle r="15.9" fill="none" stroke="#141818" stroke-width="2.0"/> <ellipse cx="-4.8" cy="-3.1" rx="2.2" ry="3.3" fill="#0a2a2a"/> <ellipse cx="4.8" cy="-3.1" rx="2.2" ry="3.3" fill="#0a2a2a"/> <path d="M-8.2,9 Q0,3 8.2,9" fill="none" stroke="#a83838" stroke-width="2.2" stroke-linecap="round"/></g>
<g transform="translate(522.5,543.3) scale(1,0.975)"> <circle r="15.2" fill="#c2de38"/> <circle r="14.3" fill="none" stroke="#c8f000" stroke-width="1.6"/> <circle r="15.9" fill="none" stroke="#1c1830" stroke-width="2.0"/> <ellipse cx="-4.9" cy="-3.1" rx="2.2" ry="3.3" fill="#0c0c30"/> <ellipse cx="4.9" cy="-3.1" rx="2.2" ry="3.3" fill="#0c0c30"/> <path d="M-8.8,5.9 Q0,12.6 8.6,5.9" fill="none" stroke="#141438" stroke-width="2.2" stroke-linecap="round"/></g>
<g transform="translate(559.3,543.3) scale(1,0.975)"> <circle r="15.2" fill="#f7a228"/> <circle r="14.4" fill="none" stroke="#ff8c00" stroke-width="1.4"/> <circle r="15.9" fill="none" stroke="#1c1424" stroke-width="2.0"/> <ellipse cx="-4.9" cy="-3.1" rx="2.2" ry="3.3" fill="#0c0c30"/> <ellipse cx="4.9" cy="-3.1" rx="2.2" ry="3.3" fill="#0c0c30"/> <path d="M-9.3,5.4 L9.3,5.4" fill="none" stroke="#a87a40" stroke-width="2.2"/></g>
<g transform="translate(596.1,543.3) scale(1,0.975)"> <circle r="15.2" fill="#ec2030"/> <circle r="14.3" fill="none" stroke="#ff1010" stroke-width="1.6"/> <circle r="15.9" fill="none" stroke="#141818" stroke-width="2.0"/> <ellipse cx="-4.8" cy="-3.1" rx="2.2" ry="3.3" fill="#0a2a2a"/> <ellipse cx="4.8" cy="-3.1" rx="2.2" ry="3.3" fill="#0a2a2a"/> <path d="M-8.2,9 Q0,3 8.2,9" fill="none" stroke="#a83838" stroke-width="2.2" stroke-linecap="round"/></g>
<g transform="translate(638.5,543.3) scale(1,0.975)"> <circle r="15.2" fill="#c2de38"/> <circle r="14.3" fill="none" stroke="#c8f000" stroke-width="1.6"/> <circle r="15.9" fill="none" stroke="#1c1830" stroke-width="2.0"/> <ellipse cx="-4.9" cy="-3.1" rx="2.2" ry="3.3" fill="#0c0c30"/> <ellipse cx="4.9" cy="-3.1" rx="2.2" ry="3.3" fill="#0c0c30"/> <path d="M-8.8,5.9 Q0,12.6 8.6,5.9" fill="none" stroke="#141438" stroke-width="2.2" stroke-linecap="round"/></g>
<g transform="translate(675.2,543.3) scale(1,0.975)"> <circle r="15.2" fill="#f7a228"/> <circle r="14.4" fill="none" stroke="#ff8c00" stroke-width="1.4"/> <circle r="15.9" fill="none" stroke="#1c1424" stroke-width="2.0"/> <ellipse cx="-4.9" cy="-3.1" rx="2.2" ry="3.3" fill="#0c0c30"/> <ellipse cx="4.9" cy="-3.1" rx="2.2" ry="3.3" fill="#0c0c30"/> <path d="M-9.3,5.4 L9.3,5.4" fill="none" stroke="#a87a40" stroke-width="2.2"/></g>
<g transform="translate(712.0,543.3) scale(1,0.975)"> <circle r="15.2" fill="#ec2030"/> <circle r="14.3" fill="none" stroke="#ff1010" stroke-width="1.6"/> <circle r="15.9" fill="none" stroke="#141818" stroke-width="2.0"/> <ellipse cx="-4.8" cy="-3.1" rx="2.2" ry="3.3" fill="#0a2a2a"/> <ellipse cx="4.8" cy="-3.1" rx="2.2" ry="3.3" fill="#0a2a2a"/> <path d="M-8.2,9 Q0,3 8.2,9" fill="none" stroke="#a83838" stroke-width="2.2" stroke-linecap="round"/></g>
<g transform="translate(174.9,632.6) scale(1,0.975)"> <circle r="15.2" fill="#c2de38"/> <circle r="14.3" fill="none" stroke="#c8f000" stroke-width="1.6"/> <circle r="15.9" fill="none" stroke="#1c1830" stroke-width="2.0"/> <ellipse cx="-4.9" cy="-3.1" rx="2.2" ry="3.3" fill="#0c0c30"/> <ellipse cx="4.9" cy="-3.1" rx="2.2" ry="3.3" fill="#0c0c30"/> <path d="M-8.8,5.9 Q0,12.6 8.6,5.9" fill="none" stroke="#141438" stroke-width="2.2" stroke-linecap="round"/></g>
<g transform="translate(211.7,632.6) scale(1,0.975)"> <circle r="15.2" fill="#f7a228"/> <circle r="14.4" fill="none" stroke="#ff8c00" stroke-width="1.4"/> <circle r="15.9" fill="none" stroke="#1c1424" stroke-width="2.0"/> <ellipse cx="-4.9" cy="-3.1" rx="2.2" ry="3.3" fill="#0c0c30"/> <ellipse cx="4.9" cy="-3.1" rx="2.2" ry="3.3" fill="#0c0c30"/> <path d="M-9.3,5.4 L9.3,5.4" fill="none" stroke="#a87a40" stroke-width="2.2"/></g>
<g transform="translate(248.5,632.6) scale(1,0.975)"> <circle r="15.2" fill="#ec2030"/> <circle r="14.3" fill="none" stroke="#ff1010" stroke-width="1.6"/> <circle r="15.9" fill="none" stroke="#141818" stroke-width="2.0"/> <ellipse cx="-4.8" cy="-3.1" rx="2.2" ry="3.3" fill="#0a2a2a"/> <ellipse cx="4.8" cy="-3.1" rx="2.2" ry="3.3" fill="#0a2a2a"/> <path d="M-8.2,9 Q0,3 8.2,9" fill="none" stroke="#a83838" stroke-width="2.2" stroke-linecap="round"/></g>
<g transform="translate(290.8,632.6) scale(1,0.975)"> <circle r="15.2" fill="#c2de38"/> <circle r="14.3" fill="none" stroke="#c8f000" stroke-width="1.6"/> <circle r="15.9" fill="none" stroke="#1c1830" stroke-width="2.0"/> <ellipse cx="-4.9" cy="-3.1" rx="2.2" ry="3.3" fill="#0c0c30"/> <ellipse cx="4.9" cy="-3.1" rx="2.2" ry="3.3" fill="#0c0c30"/> <path d="M-8.8,5.9 Q0,12.6 8.6,5.9" fill="none" stroke="#141438" stroke-width="2.2" stroke-linecap="round"/></g>
<g transform="translate(327.6,632.6) scale(1,0.975)"> <circle r="15.2" fill="#f7a228"/> <circle r="14.4" fill="none" stroke="#ff8c00" stroke-width="1.4"/> <circle r="15.9" fill="none" stroke="#1c1424" stroke-width="2.0"/> <ellipse cx="-4.9" cy="-3.1" rx="2.2" ry="3.3" fill="#0c0c30"/> <ellipse cx="4.9" cy="-3.1" rx="2.2" ry="3.3" fill="#0c0c30"/> <path d="M-9.3,5.4 L9.3,5.4" fill="none" stroke="#a87a40" stroke-width="2.2"/></g>
<g transform="translate(364.4,632.6) scale(1,0.975)"> <circle r="15.2" fill="#ec2030"/> <circle r="14.3" fill="none" stroke="#ff1010" stroke-width="1.6"/> <circle r="15.9" fill="none" stroke="#141818" stroke-width="2.0"/> <ellipse cx="-4.8" cy="-3.1" rx="2.2" ry="3.3" fill="#0a2a2a"/> <ellipse cx="4.8" cy="-3.1" rx="2.2" ry="3.3" fill="#0a2a2a"/> <path d="M-8.2,9 Q0,3 8.2,9" fill="none" stroke="#a83838" stroke-width="2.2" stroke-linecap="round"/></g>
<g transform="translate(406.7,632.6) scale(1,0.975)"> <circle r="15.2" fill="#c2de38"/> <circle r="14.3" fill="none" stroke="#c8f000" stroke-width="1.6"/> <circle r="15.9" fill="none" stroke="#1c1830" stroke-width="2.0"/> <ellipse cx="-4.9" cy="-3.1" rx="2.2" ry="3.3" fill="#0c0c30"/> <ellipse cx="4.9" cy="-3.1" rx="2.2" ry="3.3" fill="#0c0c30"/> <path d="M-8.8,5.9 Q0,12.6 8.6,5.9" fill="none" stroke="#141438" stroke-width="2.2" stroke-linecap="round"/></g>
<g transform="translate(443.5,632.6) scale(1,0.975)"> <circle r="15.2" fill="#f7a228"/> <circle r="14.4" fill="none" stroke="#ff8c00" stroke-width="1.4"/> <circle r="15.9" fill="none" stroke="#1c1424" stroke-width="2.0"/> <ellipse cx="-4.9" cy="-3.1" rx="2.2" ry="3.3" fill="#0c0c30"/> <ellipse cx="4.9" cy="-3.1" rx="2.2" ry="3.3" fill="#0c0c30"/> <path d="M-9.3,5.4 L9.3,5.4" fill="none" stroke="#a87a40" stroke-width="2.2"/></g>
<g transform="translate(480.3,632.6) scale(1,0.975)"> <circle r="15.2" fill="#ec2030"/> <circle r="14.3" fill="none" stroke="#ff1010" stroke-width="1.6"/> <circle r="15.9" fill="none" stroke="#141818" stroke-width="2.0"/> <ellipse cx="-4.8" cy="-3.1" rx="2.2" ry="3.3" fill="#0a2a2a"/> <ellipse cx="4.8" cy="-3.1" rx="2.2" ry="3.3" fill="#0a2a2a"/> <path d="M-8.2,9 Q0,3 8.2,9" fill="none" stroke="#a83838" stroke-width="2.2" stroke-linecap="round"/></g>
<g transform="translate(522.5,632.6) scale(1,0.975)"> <circle r="15.2" fill="#c2de38"/> <circle r="14.3" fill="none" stroke="#c8f000" stroke-width="1.6"/> <circle r="15.9" fill="none" stroke="#1c1830" stroke-width="2.0"/> <ellipse cx="-4.9" cy="-3.1" rx="2.2" ry="3.3" fill="#0c0c30"/> <ellipse cx="4.9" cy="-3.1" rx="2.2" ry="3.3" fill="#0c0c30"/> <path d="M-8.8,5.9 Q0,12.6 8.6,5.9" fill="none" stroke="#141438" stroke-width="2.2" stroke-linecap="round"/></g>
<g transform="translate(559.3,632.6) scale(1,0.975)"> <circle r="15.2" fill="#f7a228"/> <circle r="14.4" fill="none" stroke="#ff8c00" stroke-width="1.4"/> <circle r="15.9" fill="none" stroke="#1c1424" stroke-width="2.0"/> <ellipse cx="-4.9" cy="-3.1" rx="2.2" ry="3.3" fill="#0c0c30"/> <ellipse cx="4.9" cy="-3.1" rx="2.2" ry="3.3" fill="#0c0c30"/> <path d="M-9.3,5.4 L9.3,5.4" fill="none" stroke="#a87a40" stroke-width="2.2"/></g>
<g transform="translate(596.1,632.6) scale(1,0.975)"> <circle r="15.2" fill="#ec2030"/> <circle r="14.3" fill="none" stroke="#ff1010" stroke-width="1.6"/> <circle r="15.9" fill="none" stroke="#141818" stroke-width="2.0"/> <ellipse cx="-4.8" cy="-3.1" rx="2.2" ry="3.3" fill="#0a2a2a"/> <ellipse cx="4.8" cy="-3.1" rx="2.2" ry="3.3" fill="#0a2a2a"/> <path d="M-8.2,9 Q0,3 8.2,9" fill="none" stroke="#a83838" stroke-width="2.2" stroke-linecap="round"/></g>
<g transform="translate(638.5,632.6) scale(1,0.975)"> <circle r="15.2" fill="#c2de38"/> <circle r="14.3" fill="none" stroke="#c8f000" stroke-width="1.6"/> <circle r="15.9" fill="none" stroke="#1c1830" stroke-width="2.0"/> <ellipse cx="-4.9" cy="-3.1" rx="2.2" ry="3.3" fill="#0c0c30"/> <ellipse cx="4.9" cy="-3.1" rx="2.2" ry="3.3" fill="#0c0c30"/> <path d="M-8.8,5.9 Q0,12.6 8.6,5.9" fill="none" stroke="#141438" stroke-width="2.2" stroke-linecap="round"/></g>
<g transform="translate(675.2,632.6) scale(1,0.975)"> <circle r="15.2" fill="#f7a228"/> <circle r="14.4" fill="none" stroke="#ff8c00" stroke-width="1.4"/> <circle r="15.9" fill="none" stroke="#1c1424" stroke-width="2.0"/> <ellipse cx="-4.9" cy="-3.1" rx="2.2" ry="3.3" fill="#0c0c30"/> <ellipse cx="4.9" cy="-3.1" rx="2.2" ry="3.3" fill="#0c0c30"/> <path d="M-9.3,5.4 L9.3,5.4" fill="none" stroke="#a87a40" stroke-width="2.2"/></g>
<g transform="translate(712.0,632.6) scale(1,0.975)"> <circle r="15.2" fill="#ec2030"/> <circle r="14.3" fill="none" stroke="#ff1010" stroke-width="1.6"/> <circle r="15.9" fill="none" stroke="#141818" stroke-width="2.0"/> <ellipse cx="-4.8" cy="-3.1" rx="2.2" ry="3.3" fill="#0a2a2a"/> <ellipse cx="4.8" cy="-3.1" rx="2.2" ry="3.3" fill="#0a2a2a"/> <path d="M-8.2,9 Q0,3 8.2,9" fill="none" stroke="#a83838" stroke-width="2.2" stroke-linecap="round"/></g>
<path d="M38.5,702.4H733.9000000000001V825.3H38.5ZM618.0,702.4V825.3" fill="none" stroke="#041270" stroke-width="3.6"/>
<text transform="translate(49.18,730.50) scale(0.9665,1)" font-family="Liberation Sans" font-weight="bold" font-size="17.3" fill="#141414" >Comments:</text>
<text transform="translate(625.67,726.70) scale(1.0667,1)" font-family="Liberation Sans" font-weight="bold" font-size="17.3" fill="#141414" >Total</text>
<text transform="translate(624.65,749.80) scale(1.0224,1)" font-family="Liberation Sans" font-weight="bold" font-size="17.3" fill="#141414" >Points:</text>
<rect x="42.5" y="857.0" width="687.4" height="33.4" fill="#d0e9fb"/>
<path d="M38.5,853.0H733.9000000000001V963.2H38.5ZM38.5,894.4H733.9000000000001" fill="none" stroke="#041270" stroke-width="3.6"/>
<text transform="translate(48.89,880.30) scale(0.9740,1)" font-family="Liberation Sans" font-weight="normal" font-size="17.9" fill="#141414" stroke="#141414" stroke-width="0.9" >Key Table</text>
<text transform="translate(49.21,936.80) scale(0.8629,1)" font-family="Liberation Sans" font-weight="normal" font-size="17.5" fill="#141414" stroke="#141414" stroke-width="1.0" >Happy</text>
<text transform="translate(139.23,936.80) scale(0.9095,1)" font-family="Liberation Sans" font-weight="normal" font-size="17.5" fill="#141414" stroke="#141414" stroke-width="1.0" >&#8226; Two Points</text>
<text transform="translate(284.69,936.80) scale(0.8788,1)" font-family="Liberation Sans" font-weight="normal" font-size="17.5" fill="#141414" stroke="#141414" stroke-width="1.0" >Medium</text>
<text transform="translate(384.45,936.80) scale(0.8783,1)" font-family="Liberation Sans" font-weight="normal" font-size="17.5" fill="#141414" stroke="#141414" stroke-width="1.0" >&#8226; One Point</text>
<text transform="translate(520.45,936.80) scale(0.9122,1)" font-family="Liberation Sans" font-weight="normal" font-size="17.5" fill="#141414" stroke="#141414" stroke-width="1.0" >Frowning</text>
<text transform="translate(631.54,936.80) scale(0.8958,1)" font-family="Liberation Sans" font-weight="normal" font-size="17.5" fill="#141414" stroke="#141414" stroke-width="1.0" >&#8226; No Points</text>
<g transform="translate(117.6,932.7) scale(1,0.975)"> <circle r="15.2" fill="#c2de38"/> <circle r="14.3" fill="none" stroke="#c8f000" stroke-width="1.6"/> <circle r="15.9" fill="none" stroke="#1c1830" stroke-width="2.0"/> <ellipse cx="-4.9" cy="-3.1" rx="2.2" ry="3.3" fill="#0c0c30"/> <ellipse cx="4.9" cy="-3.1" rx="2.2" ry="3.3" fill="#0c0c30"/> <path d="M-8.8,5.9 Q0,12.6 8.6,5.9" fill="none" stroke="#141438" stroke-width="2.2" stroke-linecap="round"/></g>
<g transform="translate(360.7,932.7) scale(1,0.975)"> <circle r="15.2" fill="#f7a228"/> <circle r="14.4" fill="none" stroke="#ff8c00" stroke-width="1.4"/> <circle r="15.9" fill="none" stroke="#1c1424" stroke-width="2.0"/> <ellipse cx="-4.9" cy="-3.1" rx="2.2" ry="3.3" fill="#0c0c30"/> <ellipse cx="4.9" cy="-3.1" rx="2.2" ry="3.3" fill="#0c0c30"/> <path d="M-9.3,5.4 L9.3,5.4" fill="none" stroke="#a87a40" stroke-width="2.2"/></g>
<g transform="translate(607.7,932.7) scale(1,0.975)"> <circle r="15.2" fill="#ec2030"/> <circle r="14.3" fill="none" stroke="#ff1010" stroke-width="1.6"/> <circle r="15.9" fill="none" stroke="#141818" stroke-width="2.0"/> <ellipse cx="-4.8" cy="-3.1" rx="2.2" ry="3.3" fill="#0a2a2a"/> <ellipse cx="4.8" cy="-3.1" rx="2.2" ry="3.3" fill="#0a2a2a"/> <path d="M-8.2,9 Q0,3 8.2,9" fill="none" stroke="#a83838" stroke-width="2.2" stroke-linecap="round"/></g>
<path d="M37.5,1011.5H733" stroke="#1488e0" stroke-width="4" stroke-linecap="round"/>
<g fill="#1a8ee6"><ellipse cx="66" cy="1038" rx="26" ry="13"/><circle cx="48" cy="1033" r="11"/><circle cx="62" cy="1026" r="9"/><circle cx="76" cy="1027" r="10"/><circle cx="88" cy="1034" r="8"/><circle cx="58" cy="1047" r="9.5"/><circle cx="75" cy="1047" r="8"/></g>
<text transform="translate(43.88,1043.00) scale(0.9972,1)" font-family="Liberation Sans" font-weight="bold" font-size="16" fill="#fff" >twinkl</text>
<text transform="translate(602.40,1040.50) scale(0.7858,1)" font-family="Liberation Sans" font-weight="bold" font-size="12" fill="#1a7ee0" stroke="#1a7ee0" stroke-width="0.8" >visit twinkl.com.au</text>
<rect x="693" y="1016" width="44" height="41" fill="#fff" stroke="#cfe6f8" stroke-width="1.5"/><g fill="#1a7fe0"><circle cx="706" cy="1029" r="8"/><circle cx="716" cy="1024" r="8"/><circle cx="726" cy="1029" r="8"/><circle cx="716" cy="1033" r="7"/></g><path d="M697,1045H729M703,1051H722" stroke="#7fb8ec" stroke-width="2"/><path d="M727,1053L739,1043" stroke="#1a7fe0" stroke-width="3" stroke-linecap="round"/></svg>
</div>
<div class="pg" style="left:460px;top:32px;width:771px;height:620px;">
<svg width="771" height="620" viewBox="0 0 771 620"><rect x="0" y="0" width="771" height="1093" fill="#fff"/>
<text transform="translate(182.21,76.20) scale(1.0134,1)" font-family="Liberation Sans" font-weight="bold" font-size="41" fill="#1592e6" >Daily</text>
<text transform="translate(296.86,76.20) scale(0.9613,1)" font-family="Liberation Sans" font-weight="bold" font-size="41" fill="#1592e6" >Behaviour</text>
<text transform="translate(502.36,76.20) scale(1.0314,1)" font-family="Liberation Sans" font-weight="bold" font-size="41" fill="#1592e6" >Plan</text>
<rect x="157.9" y="111.5" width="108.9" height="31.6" fill="#d0e9fb"/>
<rect x="273.8" y="111.5" width="108.9" height="31.6" fill="#d0e9fb"/>
<rect x="389.7" y="111.5" width="108.9" height="31.6" fill="#d0e9fb"/>
<rect x="505.6" y="111.5" width="108.9" height="31.6" fill="#d0e9fb"/>
<rect x="621.5" y="111.5" width="108.9" height="31.6" fill="#d0e9fb"/>
<rect x="42.0" y="150.1" width="108.9" height="81.0" fill="#d0e9fb"/>
<rect x="42.0" y="238.1" width="108.9" height="81.0" fill="#d0e9fb"/>
<rect x="42.0" y="326.1" width="108.9" height="81.0" fill="#d0e9fb"/>
<rect x="42.0" y="414.1" width="108.9" height="81.0" fill="#d0e9fb"/>
<rect x="42.0" y="502.1" width="108.9" height="81.0" fill="#d0e9fb"/>
<rect x="42.0" y="590.1" width="108.9" height="81.0" fill="#d0e9fb"/>
<path d="M154.4,108.0H733.9000000000001M38.5,146.60H733.9000000000001M38.5,234.60H733.9000000000001M38.5,322.60H733.9000000000001M38.5,410.60H733.9000000000001M38.5,498.60H733.9000000000001M38.5,586.60H733.9000000000001M38.5,674.60H733.9000000000001M38.50,146.6V674.60M154.40,108.0V674.60M270.30,108.0V674.60M386.20,108.0V674.60M502.10,108.0V674.60M618.00,108.0V674.60M733.90,108.0V674.60" fill="none" stroke="#050f58" stroke-width="2.6" stroke-linecap="square"/>
<text transform="translate(178.85,135.70) scale(1.0897,1)" font-family="Liberation Sans" font-weight="normal" font-size="17.2" fill="#141414" stroke="#141414" stroke-width="0.7" >Morning</text>
<text transform="translate(304.07,135.70) scale(0.8580,1)" font-family="Liberation Sans" font-weight="normal" font-size="17.2" fill="#141414" stroke="#141414" stroke-width="0.7" >Recess</text>
<text transform="translate(417.18,135.70) scale(1.0694,1)" font-family="Liberation Sans" font-weight="normal" font-size="17.2" fill="#141414" stroke="#141414" stroke-width="0.7" >Middle</text>
<text transform="translate(536.03,135.70) scale(1.0334,1)" font-family="Liberation Sans" font-weight="normal" font-size="17.2" fill="#141414" stroke="#141414" stroke-width="0.7" >Lunch</text>
<text transform="translate(637.15,135.70) scale(1.0598,1)" font-family="Liberation Sans" font-weight="normal" font-size="17.2" fill="#141414" stroke="#141414" stroke-width="0.7" >Afternoon</text>
<text transform="translate(67.51,199.10) scale(0.9004,1)" font-family="Liberation Sans" font-weight="normal" font-size="17.5" fill="#141414" stroke="#141414" stroke-width="0.7" >Respect</text>
<text transform="translate(50.95,287.70) scale(0.9464,1)" font-family="Liberation Sans" font-weight="normal" font-size="17.5" fill="#141414" stroke="#141414" stroke-width="0.7" >Responsible</text>
<text transform="translate(79.53,375.30) scale(0.9396,1)" font-family="Liberation Sans" font-weight="normal" font-size="17.5" fill="#141414" stroke="#141414" stroke-width="0.7" >Safe</text>
<text transform="translate(61.74,463.20) scale(1.0225,1)" font-family="Liberation Sans" font-weight="normal" font-size="17.5" fill="#141414" stroke="#141414" stroke-width="0.7" >Learning</text>
<text transform="translate(60.34,551.20) scale(1.0277,1)" font-family="Liberation Sans" font-weight="normal" font-size="17.5" fill="#141414" stroke="#141414" stroke-width="0.7" >Listening</text>
<text transform="translate(69.29,629.00) scale(1.0606,1)" font-family="Liberation Sans" font-weight="normal" font-size="17.5" fill="#141414" stroke="#141414" stroke-width="0.7" >Follow</text>
<text transform="translate(47.87,653.00) scale(1.0968,1)" font-family="Liberation Sans" font-weight="normal" font-size="17.5" fill="#141414" stroke="#141414" stroke-width="0.7" >Instructions</text>
<g transform="translate(174.9,189.4) scale(1,0.975)"> <circle r="15.2" fill="#c7dc58"/> <circle r="14.3" fill="none" stroke="#d9f03a" stroke-width="1.6"/> <circle r="15.9" fill="none" stroke="#1c1830" stroke-width="1.8"/> <ellipse cx="-4.9" cy="-3.1" rx="1.75" ry="2.9" fill="#0c0c30"/> <ellipse cx="4.9" cy="-3.1" rx="1.75" ry="2.9" fill="#0c0c30"/> <path d="M-8.8,5.9 Q0,12.6 8.6,5.9" fill="none" stroke="#141438" stroke-width="2.2" stroke-linecap="round"/></g>
<g transform="translate(211.7,189.4) scale(1,0.975)"> <circle r="15.2" fill="#f5a23a"/> <circle r="14.4" fill="none" stroke="#ffa020" stroke-width="1.4"/> <circle r="15.9" fill="none" stroke="#1c1424" stroke-width="1.8"/> <ellipse cx="-4.9" cy="-3.1" rx="1.75" ry="2.9" fill="#0c0c30"/> <ellipse cx="4.9" cy="-3.1" rx="1.75" ry="2.9" fill="#0c0c30"/> <path d="M-9.3,5.4 L9.3,5.4" fill="none" stroke="#a87a40" stroke-width="2.2"/></g>
<g transform="translate(248.5,189.4) scale(1,0.975)"> <circle r="15.2" fill="#de2d3a"/> <circle r="14.3" fill="none" stroke="#f51c24" stroke-width="1.6"/> <circle r="15.9" fill="none" stroke="#141818" stroke-width="1.8"/> <ellipse cx="-4.8" cy="-3.1" rx="1.75" ry="2.9" fill="#0a2a2a"/> <ellipse cx="4.8" cy="-3.1" rx="1.75" ry="2.9" fill="#0a2a2a"/> <path d="M-8.2,9 Q0,3 8.2,9" fill="none" stroke="#a83838" stroke-width="2.2" stroke-linecap="round"/></g>
<g transform="translate(290.8,189.4) scale(1,0.975)"> <circle r="15.2" fill="#c7dc58"/> <circle r="14.3" fill="none" stroke="#d9f03a" stroke-width="1.6"/> <circle r="15.9" fill="none" stroke="#1c1830" stroke-width="1.8"/> <ellipse cx="-4.9" cy="-3.1" rx="1.75" ry="2.9" fill="#0c0c30"/> <ellipse cx="4.9" cy="-3.1" rx="1.75" ry="2.9" fill="#0c0c30"/> <path d="M-8.8,5.9 Q0,12.6 8.6,5.9" fill="none" stroke="#141438" stroke-width="2.2" stroke-linecap="round"/></g>
<g transform="translate(327.6,189.4) scale(1,0.975)"> <circle r="15.2" fill="#f5a23a"/> <circle r="14.4" fill="none" stroke="#ffa020" stroke-width="1.4"/> <circle r="15.9" fill="none" stroke="#1c1424" stroke-width="1.8"/> <ellipse cx="-4.9" cy="-3.1" rx="1.75" ry="2.9" fill="#0c0c30"/> <ellipse cx="4.9" cy="-3.1" rx="1.75" ry="2.9" fill="#0c0c30"/> <path d="M-9.3,5.4 L9.3,5.4" fill="none" stroke="#a87a40" stroke-width="2.2"/></g>
<g transform="translate(364.4,189.4) scale(1,0.975)"> <circle r="15.2" fill="#de2d3a"/> <circle r="14.3" fill="none" stroke="#f51c24" stroke-width="1.6"/> <circle r="15.9" fill="none" stroke="#141818" stroke-width="1.8"/> <ellipse cx="-4.8" cy="-3.1" rx="1.75" ry="2.9" fill="#0a2a2a"/> <ellipse cx="4.8" cy="-3.1" rx="1.75" ry="2.9" fill="#0a2a2a"/> <path d="M-8.2,9 Q0,3 8.2,9" fill="none" stroke="#a83838" stroke-width="2.2" stroke-linecap="round"/></g>
<g transform="translate(406.7,189.4) scale(1,0.975)"> <circle r="15.2" fill="#c7dc58"/> <circle r="14.3" fill="none" stroke="#d9f03a" stroke-width="1.6"/> <circle r="15.9" fill="none" stroke="#1c1830" stroke-width="1.8"/> <ellipse cx="-4.9" cy="-3.1" rx="1.75" ry="2.9" fill="#0c0c30"/> <ellipse cx="4.9" cy="-3.1" rx="1.75" ry="2.9" fill="#0c0c30"/> <path d="M-8.8,5.9 Q0,12.6 8.6,5.9" fill="none" stroke="#141438" stroke-width="2.2" stroke-linecap="round"/></g>
<g transform="translate(443.5,189.4) scale(1,0.975)"> <circle r="15.2" fill="#f5a23a"/> <circle r="14.4" fill="none" stroke="#ffa020" stroke-width="1.4"/> <circle r="15.9" fill="none" stroke="#1c1424" stroke-width="1.8"/> <ellipse cx="-4.9" cy="-3.1" rx="1.75" ry="2.9" fill="#0c0c30"/> <ellipse cx="4.9" cy="-3.1" rx="1.75" ry="2.9" fill="#0c0c30"/> <path d="M-9.3,5.4 L9.3,5.4" fill="none" stroke="#a87a40" stroke-width="2.2"/></g>
<g transform="translate(480.3,189.4) scale(1,0.975)"> <circle r="15.2" fill="#de2d3a"/> <circle r="14.3" fill="none" stroke="#f51c24" stroke-width="1.6"/> <circle r="15.9" fill="none" stroke="#141818" stroke-width="1.8"/> <ellipse cx="-4.8" cy="-3.1" rx="1.75" ry="2.9" fill="#0a2a2a"/> <ellipse cx="4.8" cy="-3.1" rx="1.75" ry="2.9" fill="#0a2a2a"/> <path d="M-8.2,9 Q0,3 8.2,9" fill="none" stroke="#a83838" stroke-width="2.2" stroke-linecap="round"/></g>
<g transform="translate(522.5,189.4) scale(1,0.975)"> <circle r="15.2" fill="#c7dc58"/> <circle r="14.3" fill="none" stroke="#d9f03a" stroke-width="1.6"/> <circle r="15.9" fill="none" stroke="#1c1830" stroke-width="1.8"/> <ellipse cx="-4.9" cy="-3.1" rx="1.75" ry="2.9" fill="#0c0c30"/> <ellipse cx="4.9" cy="-3.1" rx="1.75" ry="2.9" fill="#0c0c30"/> <path d="M-8.8,5.9 Q0,12.6 8.6,5.9" fill="none" stroke="#141438" stroke-width="2.2" stroke-linecap="round"/></g>
<g transform="translate(559.3,189.4) scale(1,0.975)"> <circle r="15.2" fill="#f5a23a"/> <circle r="14.4" fill="none" stroke="#ffa020" stroke-width="1.4"/> <circle r="15.9" fill="none" stroke="#1c1424" stroke-width="1.8"/> <ellipse cx="-4.9" cy="-3.1" rx="1.75" ry="2.9" fill="#0c0c30"/> <ellipse cx="4.9" cy="-3.1" rx="1.75" ry="2.9" fill="#0c0c30"/> <path d="M-9.3,5.4 L9.3,5.4" fill="none" stroke="#a87a40" stroke-width="2.2"/></g>
<g transform="translate(596.1,189.4) scale(1,0.975)"> <circle r="15.2" fill="#de2d3a"/> <circle r="14.3" fill="none" stroke="#f51c24" stroke-width="1.6"/> <circle r="15.9" fill="none" stroke="#141818" stroke-width="1.8"/> <ellipse cx="-4.8" cy="-3.1" rx="1.75" ry="2.9" fill="#0a2a2a"/> <ellipse cx="4.8" cy="-3.1" rx="1.75" ry="2.9" fill="#0a2a2a"/> <path d="M-8.2,9 Q0,3 8.2,9" fill="none" stroke="#a83838" stroke-width="2.2" stroke-linecap="round"/></g>
<g transform="translate(638.5,189.4) scale(1,0.975)"> <circle r="15.2" fill="#c7dc58"/> <circle r="14.3" fill="none" stroke="#d9f03a" stroke-width="1.6"/> <circle r="15.9" fill="none" stroke="#1c1830" stroke-width="1.8"/> <ellipse cx="-4.9" cy="-3.1" rx="1.75" ry="2.9" fill="#0c0c30"/> <ellipse cx="4.9" cy="-3.1" rx="1.75" ry="2.9" fill="#0c0c30"/> <path d="M-8.8,5.9 Q0,12.6 8.6,5.9" fill="none" stroke="#141438" stroke-width="2.2" stroke-linecap="round"/></g>
<g transform="translate(675.2,189.4) scale(1,0.975)"> <circle r="15.2" fill="#f5a23a"/> <circle r="14.4" fill="none" stroke="#ffa020" stroke-width="1.4"/> <circle r="15.9" fill="none" stroke="#1c1424" stroke-width="1.8"/> <ellipse cx="-4.9" cy="-3.1" rx="1.75" ry="2.9" fill="#0c0c30"/> <ellipse cx="4.9" cy="-3.1" rx="1.75" ry="2.9" fill="#0c0c30"/> <path d="M-9.3,5.4 L9.3,5.4" fill="none" stroke="#a87a40" stroke-width="2.2"/></g>
<g transform="translate(712.0,189.4) scale(1,0.975)"> <circle r="15.2" fill="#de2d3a"/> <circle r="14.3" fill="none" stroke="#f51c24" stroke-width="1.6"/> <circle r="15.9" fill="none" stroke="#141818" stroke-width="1.8"/> <ellipse cx="-4.8" cy="-3.1" rx="1.75" ry="2.9" fill="#0a2a2a"/> <ellipse cx="4.8" cy="-3.1" rx="1.75" ry="2.9" fill="#0a2a2a"/> <path d="M-8.2,9 Q0,3 8.2,9" fill="none" stroke="#a83838" stroke-width="2.2" stroke-linecap="round"/></g>
<g transform="translate(174.9,279.0) scale(1,0.975)"> <circle r="15.2" fill="#c7dc58"/> <circle r="14.3" fill="none" stroke="#d9f03a" stroke-width="1.6"/> <circle r="15.9" fill="none" stroke="#1c1830" stroke-width="1.8"/> <ellipse cx="-4.9" cy="-3.1" rx="1.75" ry="2.9" fill="#0c0c30"/> <ellipse cx="4.9" cy="-3.1" rx="1.75" ry="2.9" fill="#0c0c30"/> <path d="M-8.8,5.9 Q0,12.6 8.6,5.9" fill="none" stroke="#141438" stroke-width="2.2" stroke-linecap="round"/></g>
<g transform="translate(211.7,279.0) scale(1,0.975)"> <circle r="15.2" fill="#f5a23a"/> <circle r="14.4" fill="none" stroke="#ffa020" stroke-width="1.4"/> <circle r="15.9" fill="none" stroke="#1c1424" stroke-width="1.8"/> <ellipse cx="-4.9" cy="-3.1" rx="1.75" ry="2.9" fill="#0c0c30"/> <ellipse cx="4.9" cy="-3.1" rx="1.75" ry="2.9" fill="#0c0c30"/> <path d="M-9.3,5.4 L9.3,5.4" fill="none" stroke="#a87a40" stroke-width="2.2"/></g>
<g transform="translate(248.5,279.0) scale(1,0.975)"> <circle r="15.2" fill="#de2d3a"/> <circle r="14.3" fill="none" stroke="#f51c24" stroke-width="1.6"/> <circle r="15.9" fill="none" stroke="#141818" stroke-width="1.8"/> <ellipse cx="-4.8" cy="-3.1" rx="1.75" ry="2.9" fill="#0a2a2a"/> <ellipse cx="4.8" cy="-3.1" rx="1.75" ry="2.9" fill="#0a2a2a"/> <path d="M-8.2,9 Q0,3 8.2,9" fill="none" stroke="#a83838" stroke-width="2.2" stroke-linecap="round"/></g>
<g transform="translate(290.8,279.0) scale(1,0.975)"> <circle r="15.2" fill="#c7dc58"/> <circle r="14.3" fill="none" stroke="#d9f03a" stroke-width="1.6"/> <circle r="15.9" fill="none" stroke="#1c1830" stroke-width="1.8"/> <ellipse cx="-4.9" cy="-3.1" rx="1.75" ry="2.9" fill="#0c0c30"/> <ellipse cx="4.9" cy="-3.1" rx="1.75" ry="2.9" fill="#0c0c30"/> <path d="M-8.8,5.9 Q0,12.6 8.6,5.9" fill="none" stroke="#141438" stroke-width="2.2" stroke-linecap="round"/></g>
<g transform="translate(327.6,279.0) scale(1,0.975)"> <circle r="15.2" fill="#f5a23a"/> <circle r="14.4" fill="none" stroke="#ffa020" stroke-width="1.4"/> <circle r="15.9" fill="none" stroke="#1c1424" stroke-width="1.8"/> <ellipse cx="-4.9" cy="-3.1" rx="1.75" ry="2.9" fill="#0c0c30"/> <ellipse cx="4.9" cy="-3.1" rx="1.75" ry="2.9" fill="#0c0c30"/> <path d="M-9.3,5.4 L9.3,5.4" fill="none" stroke="#a87a40" stroke-width="2.2"/></g>
<g transform="translate(364.4,279.0) scale(1,0.975)"> <circle r="15.2" fill="#de2d3a"/> <circle r="14.3" fill="none" stroke="#f51c24" stroke-width="1.6"/> <circle r="15.9" fill="none" stroke="#141818" stroke-width="1.8"/> <ellipse cx="-4.8" cy="-3.1" rx="1.75" ry="2.9" fill="#0a2a2a"/> <ellipse cx="4.8" cy="-3.1" rx="1.75" ry="2.9" fill="#0a2a2a"/> <path d="M-8.2,9 Q0,3 8.2,9" fill="none" stroke="#a83838" stroke-width="2.2" stroke-linecap="round"/></g>
<g transform="translate(406.7,279.0) scale(1,0.975)"> <circle r="15.2" fill="#c7dc58"/> <circle r="14.3" fill="none" stroke="#d9f03a" stroke-width="1.6"/> <circle r="15.9" fill="none" stroke="#1c1830" stroke-width="1.8"/> <ellipse cx="-4.9" cy="-3.1" rx="1.75" ry="2.9" fill="#0c0c30"/> <ellipse cx="4.9" cy="-3.1" rx="1.75" ry="2.9" fill="#0c0c30"/> <path d="M-8.8,5.9 Q0,12.6 8.6,5.9" fill="none" stroke="#141438" stroke-width="2.2" stroke-linecap="round"/></g>
<g transform="translate(443.5,279.0) scale(1,0.975)"> <circle r="15.2" fill="#f5a23a"/> <circle r="14.4" fill="none" stroke="#ffa020" stroke-width="1.4"/> <circle r="15.9" fill="none" stroke="#1c1424" stroke-width="1.8"/> <ellipse cx="-4.9" cy="-3.1" rx="1.75" ry="2.9" fill="#0c0c30"/> <ellipse cx="4.9" cy="-3.1" rx="1.75" ry="2.9" fill="#0c0c30"/> <path d="M-9.3,5.4 L9.3,5.4" fill="none" stroke="#a87a40" stroke-width="2.2"/></g>
<g transform="translate(480.3,279.0) scale(1,0.975)"> <circle r="15.2" fill="#de2d3a"/> <circle r="14.3" fill="none" stroke="#f51c24" stroke-width="1.6"/> <circle r="15.9" fill="none" stroke="#141818" stroke-width="1.8"/> <ellipse cx="-4.8" cy="-3.1" rx="1.75" ry="2.9" fill="#0a2a2a"/> <ellipse cx="4.8" cy="-3.1" rx="1.75" ry="2.9" fill="#0a2a2a"/> <path d="M-8.2,9 Q0,3 8.2,9" fill="none" stroke="#a83838" stroke-width="2.2" stroke-linecap="round"/></g>
<g transform="translate(522.5,279.0) scale(1,0.975)"> <circle r="15.2" fill="#c7dc58"/> <circle r="14.3" fill="none" stroke="#d9f03a" stroke-width="1.6"/> <circle r="15.9" fill="none" stroke="#1c1830" stroke-width="1.8"/> <ellipse cx="-4.9" cy="-3.1" rx="1.75" ry="2.9" fill="#0c0c30"/> <ellipse cx="4.9" cy="-3.1" rx="1.75" ry="2.9" fill="#0c0c30"/> <path d="M-8.8,5.9 Q0,12.6 8.6,5.9" fill="none" stroke="#141438" stroke-width="2.2" stroke-linecap="round"/></g>
<g transform="translate(559.3,279.0) scale(1,0.975)"> <circle r="15.2" fill="#f5a23a"/> <circle r="14.4" fill="none" stroke="#ffa020" stroke-width="1.4"/> <circle r="15.9" fill="none" stroke="#1c1424" stroke-width="1.8"/> <ellipse cx="-4.9" cy="-3.1" rx="1.75" ry="2.9" fill="#0c0c30"/> <ellipse cx="4.9" cy="-3.1" rx="1.75" ry="2.9" fill="#0c0c30"/> <path d="M-9.3,5.4 L9.3,5.4" fill="none" stroke="#a87a40" stroke-width="2.2"/></g>
<g transform="translate(596.1,279.0) scale(1,0.975)"> <circle r="15.2" fill="#de2d3a"/> <circle r="14.3" fill="none" stroke="#f51c24" stroke-width="1.6"/> <circle r="15.9" fill="none" stroke="#141818" stroke-width="1.8"/> <ellipse cx="-4.8" cy="-3.1" rx="1.75" ry="2.9" fill="#0a2a2a"/> <ellipse cx="4.8" cy="-3.1" rx="1.75" ry="2.9" fill="#0a2a2a"/> <path d="M-8.2,9 Q0,3 8.2,9" fill="none" stroke="#a83838" stroke-width="2.2" stroke-linecap="round"/></g>
<g transform="translate(638.5,279.0) scale(1,0.975)"> <circle r="15.2" fill="#c7dc58"/> <circle r="14.3" fill="none" stroke="#d9f03a" stroke-width="1.6"/> <circle r="15.9" fill="none" stroke="#1c1830" stroke-width="1.8"/> <ellipse cx="-4.9" cy="-3.1" rx="1.75" ry="2.9" fill="#0c0c30"/> <ellipse cx="4.9" cy="-3.1" rx="1.75" ry="2.9" fill="#0c0c30"/> <path d="M-8.8,5.9 Q0,12.6 8.6,5.9" fill="none" stroke="#141438" stroke-width="2.2" stroke-linecap="round"/></g>
<g transform="translate(675.2,279.0) scale(1,0.975)"> <circle r="15.2" fill="#f5a23a"/> <circle r="14.4" fill="none" stroke="#ffa020" stroke-width="1.4"/> <circle r="15.9" fill="none" stroke="#1c1424" stroke-width="1.8"/> <ellipse cx="-4.9" cy="-3.1" rx="1.75" ry="2.9" fill="#0c0c30"/> <ellipse cx="4.9" cy="-3.1" rx="1.75" ry="2.9" fill="#0c0c30"/> <path d="M-9.3,5.4 L9.3,5.4" fill="none" stroke="#a87a40" stroke-width="2.2"/></g>
<g transform="translate(712.0,279.0) scale(1,0.975)"> <circle r="15.2" fill="#de2d3a"/> <circle r="14.3" fill="none" stroke="#f51c24" stroke-width="1.6"/> <circle r="15.9" fill="none" stroke="#141818" stroke-width="1.8"/> <ellipse cx="-4.8" cy="-3.1" rx="1.75" ry="2.9" fill="#0a2a2a"/> <ellipse cx="4.8" cy="-3.1" rx="1.75" ry="2.9" fill="#0a2a2a"/> <path d="M-8.2,9 Q0,3 8.2,9" fill="none" stroke="#a83838" stroke-width="2.2" stroke-linecap="round"/></g>
<g transform="translate(174.9,368.2) scale(1,0.975)"> <circle r="15.2" fill="#c7dc58"/> <circle r="14.3" fill="none" stroke="#d9f03a" stroke-width="1.6"/> <circle r="15.9" fill="none" stroke="#1c1830" stroke-width="1.8"/> <ellipse cx="-4.9" cy="-3.1" rx="1.75" ry="2.9" fill="#0c0c30"/> <ellipse cx="4.9" cy="-3.1" rx="1.75" ry="2.9" fill="#0c0c30"/> <path d="M-8.8,5.9 Q0,12.6 8.6,5.9" fill="none" stroke="#141438" stroke-width="2.2" stroke-linecap="round"/></g>
<g transform="translate(211.7,368.2) scale(1,0.975)"> <circle r="15.2" fill="#f5a23a"/> <circle r="14.4" fill="none" stroke="#ffa020" stroke-width="1.4"/> <circle r="15.9" fill="none" stroke="#1c1424" stroke-width="1.8"/> <ellipse cx="-4.9" cy="-3.1" rx="1.75" ry="2.9" fill="#0c0c30"/> <ellipse cx="4.9" cy="-3.1" rx="1.75" ry="2.9" fill="#0c0c30"/> <path d="M-9.3,5.4 L9.3,5.4" fill="none" stroke="#a87a40" stroke-width="2.2"/></g>
<g transform="translate(248.5,368.2) scale(1,0.975)"> <circle r="15.2" fill="#de2d3a"/> <circle r="14.3" fill="none" stroke="#f51c24" stroke-width="1.6"/> <circle r="15.9" fill="none" stroke="#141818" stroke-width="1.8"/> <ellipse cx="-4.8" cy="-3.1" rx="1.75" ry="2.9" fill="#0a2a2a"/> <ellipse cx="4.8" cy="-3.1" rx="1.75" ry="2.9" fill="#0a2a2a"/> <path d="M-8.2,9 Q0,3 8.2,9" fill="none" stroke="#a83838" stroke-width="2.2" stroke-linecap="round"/></g>
<g transform="translate(290.8,368.2) scale(1,0.975)"> <circle r="15.2" fill="#c7dc58"/> <circle r="14.3" fill="none" stroke="#d9f03a" stroke-width="1.6"/> <circle r="15.9" fill="none" stroke="#1c1830" stroke-width="1.8"/> <ellipse cx="-4.9" cy="-3.1" rx="1.75" ry="2.9" fill="#0c0c30"/> <ellipse cx="4.9" cy="-3.1" rx="1.75" ry="2.9" fill="#0c0c30"/> <path d="M-8.8,5.9 Q0,12.6 8.6,5.9" fill="none" stroke="#141438" stroke-width="2.2" stroke-linecap="round"/></g>
<g transform="translate(327.6,368.2) scale(1,0.975)"> <circle r="15.2" fill="#f5a23a"/> <circle r="14.4" fill="none" stroke="#ffa020" stroke-width="1.4"/> <circle r="15.9" fill="none" stroke="#1c1424" stroke-width="1.8"/> <ellipse cx="-4.9" cy="-3.1" rx="1.75" ry="2.9" fill="#0c0c30"/> <ellipse cx="4.9" cy="-3.1" rx="1.75" ry="2.9" fill="#0c0c30"/> <path d="M-9.3,5.4 L9.3,5.4" fill="none" stroke="#a87a40" stroke-width="2.2"/></g>
<g transform="translate(364.4,368.2) scale(1,0.975)"> <circle r="15.2" fill="#de2d3a"/> <circle r="14.3" fill="none" stroke="#f51c24" stroke-width="1.6"/> <circle r="15.9" fill="none" stroke="#141818" stroke-width="1.8"/> <ellipse cx="-4.8" cy="-3.1" rx="1.75" ry="2.9" fill="#0a2a2a"/> <ellipse cx="4.8" cy="-3.1" rx="1.75" ry="2.9" fill="#0a2a2a"/> <path d="M-8.2,9 Q0,3 8.2,9" fill="none" stroke="#a83838" stroke-width="2.2" stroke-linecap="round"/></g>
<g transform="translate(406.7,368.2) scale(1,0.975)"> <circle r="15.2" fill="#c7dc58"/> <circle r="14.3" fill="none" stroke="#d9f03a" stroke-width="1.6"/> <circle r="15.9" fill="none" stroke="#1c1830" stroke-width="1.8"/> <ellipse cx="-4.9" cy="-3.1" rx="1.75" ry="2.9" fill="#0c0c30"/> <ellipse cx="4.9" cy="-3.1" rx="1.75" ry="2.9" fill="#0c0c30"/> <path d="M-8.8,5.9 Q0,12.6 8.6,5.9" fill="none" stroke="#141438" stroke-width="2.2" stroke-linecap="round"/></g>
<g transform="translate(443.5,368.2) scale(1,0.975)"> <circle r="15.2" fill="#f5a23a"/> <circle r="14.4" fill="none" stroke="#ffa020" stroke-width="1.4"/> <circle r="15.9" fill="none" stroke="#1c1424" stroke-width="1.8"/> <ellipse cx="-4.9" cy="-3.1" rx="1.75" ry="2.9" fill="#0c0c30"/> <ellipse cx="4.9" cy="-3.1" rx="1.75" ry="2.9" fill="#0c0c30"/> <path d="M-9.3,5.4 L9.3,5.4" fill="none" stroke="#a87a40" stroke-width="2.2"/></g>
<g transform="translate(480.3,368.2) scale(1,0.975)"> <circle r="15.2" fill="#de2d3a"/> <circle r="14.3" fill="none" stroke="#f51c24" stroke-width="1.6"/> <circle r="15.9" fill="none" stroke="#141818" stroke-width="1.8"/> <ellipse cx="-4.8" cy="-3.1" rx="1.75" ry="2.9" fill="#0a2a2a"/> <ellipse cx="4.8" cy="-3.1" rx="1.75" ry="2.9" fill="#0a2a2a"/> <path d="M-8.2,9 Q0,3 8.2,9" fill="none" stroke="#a83838" stroke-width="2.2" stroke-linecap="round"/></g>
<g transform="translate(522.5,368.2) scale(1,0.975)"> <circle r="15.2" fill="#c7dc58"/> <circle r="14.3" fill="none" stroke="#d9f03a" stroke-width="1.6"/> <circle r="15.9" fill="none" stroke="#1c1830" stroke-width="1.8"/> <ellipse cx="-4.9" cy="-3.1" rx="1.75" ry="2.9" fill="#0c0c30"/> <ellipse cx="4.9" cy="-3.1" rx="1.75" ry="2.9" fill="#0c0c30"/> <path d="M-8.8,5.9 Q0,12.6 8.6,5.9" fill="none" stroke="#141438" stroke-width="2.2" stroke-linecap="round"/></g>
<g transform="translate(559.3,368.2) scale(1,0.975)"> <circle r="15.2" fill="#f5a23a"/> <circle r="14.4" fill="none" stroke="#ffa020" stroke-width="1.4"/> <circle r="15.9" fill="none" stroke="#1c1424" stroke-width="1.8"/> <ellipse cx="-4.9" cy="-3.1" rx="1.75" ry="2.9" fill="#0c0c30"/> <ellipse cx="4.9" cy="-3.1" rx="1.75" ry="2.9" fill="#0c0c30"/> <path d="M-9.3,5.4 L9.3,5.4" fill="none" stroke="#a87a40" stroke-width="2.2"/></g>
<g transform="translate(596.1,368.2) scale(1,0.975)"> <circle r="15.2" fill="#de2d3a"/> <circle r="14.3" fill="none" stroke="#f51c24" stroke-width="1.6"/> <circle r="15.9" fill="none" stroke="#141818" stroke-width="1.8"/> <ellipse cx="-4.8" cy="-3.1" rx="1.75" ry="2.9" fill="#0a2a2a"/> <ellipse cx="4.8" cy="-3.1" rx="1.75" ry="2.9" fill="#0a2a2a"/> <path d="M-8.2,9 Q0,3 8.2,9" fill="none" stroke="#a83838" stroke-width="2.2" stroke-linecap="round"/></g>
<g transform="translate(638.5,368.2) scale(1,0.975)"> <circle r="15.2" fill="#c7dc58"/> <circle r="14.3" fill="none" stroke="#d9f03a" stroke-width="1.6"/> <circle r="15.9" fill="none" stroke="#1c1830" stroke-width="1.8"/> <ellipse cx="-4.9" cy="-3.1" rx="1.75" ry="2.9" fill="#0c0c30"/> <ellipse cx="4.9" cy="-3.1" rx="1.75" ry="2.9" fill="#0c0c30"/> <path d="M-8.8,5.9 Q0,12.6 8.6,5.9" fill="none" stroke="#141438" stroke-width="2.2" stroke-linecap="round"/></g>
<g transform="translate(675.2,368.2) scale(1,0.975)"> <circle r="15.2" fill="#f5a23a"/> <circle r="14.4" fill="none" stroke="#ffa020" stroke-width="1.4"/> <circle r="15.9" fill="none" stroke="#1c1424" stroke-width="1.8"/> <ellipse cx="-4.9" cy="-3.1" rx="1.75" ry="2.9" fill="#0c0c30"/> <ellipse cx="4.9" cy="-3.1" rx="1.75" ry="2.9" fill="#0c0c30"/> <path d="M-9.3,5.4 L9.3,5.4" fill="none" stroke="#a87a40" stroke-width="2.2"/></g>
<g transform="translate(712.0,368.2) scale(1,0.975)"> <circle r="15.2" fill="#de2d3a"/> <circle r="14.3" fill="none" stroke="#f51c24" stroke-width="1.6"/> <circle r="15.9" fill="none" stroke="#141818" stroke-width="1.8"/> <ellipse cx="-4.8" cy="-3.1" rx="1.75" ry="2.9" fill="#0a2a2a"/> <ellipse cx="4.8" cy="-3.1" rx="1.75" ry="2.9" fill="#0a2a2a"/> <path d="M-8.2,9 Q0,3 8.2,9" fill="none" stroke="#a83838" stroke-width="2.2" stroke-linecap="round"/></g>
<g transform="translate(174.9,457.4) scale(1,0.975)"> <circle r="15.2" fill="#c7dc58"/> <circle r="14.3" fill="none" stroke="#d9f03a" stroke-width="1.6"/> <circle r="15.9" fill="none" stroke="#1c1830" stroke-width="1.8"/> <ellipse cx="-4.9" cy="-3.1" rx="1.75" ry="2.9" fill="#0c0c30"/> <ellipse cx="4.9" cy="-3.1" rx="1.75" ry="2.9" fill="#0c0c30"/> <path d="M-8.8,5.9 Q0,12.6 8.6,5.9" fill="none" stroke="#141438" stroke-width="2.2" stroke-linecap="round"/></g>
<g transform="translate(211.7,457.4) scale(1,0.975)"> <circle r="15.2" fill="#f5a23a"/> <circle r="14.4" fill="none" stroke="#ffa020" stroke-width="1.4"/> <circle r="15.9" fill="none" stroke="#1c1424" stroke-width="1.8"/> <ellipse cx="-4.9" cy="-3.1" rx="1.75" ry="2.9" fill="#0c0c30"/> <ellipse cx="4.9" cy="-3.1" rx="1.75" ry="2.9" fill="#0c0c30"/> <path d="M-9.3,5.4 L9.3,5.4" fill="none" stroke="#a87a40" stroke-width="2.2"/></g>
<g transform="translate(248.5,457.4) scale(1,0.975)"> <circle r="15.2" fill="#de2d3a"/> <circle r="14.3" fill="none" stroke="#f51c24" stroke-width="1.6"/> <circle r="15.9" fill="none" stroke="#141818" stroke-width="1.8"/> <ellipse cx="-4.8" cy="-3.1" rx="1.75" ry="2.9" fill="#0a2a2a"/> <ellipse cx="4.8" cy="-3.1" rx="1.75" ry="2.9" fill="#0a2a2a"/> <path d="M-8.2,9 Q0,3 8.2,9" fill="none" stroke="#a83838" stroke-width="2.2" stroke-linecap="round"/></g>
<g transform="translate(290.8,457.4) scale(1,0.975)"> <circle r="15.2" fill="#c7dc58"/> <circle r="14.3" fill="none" stroke="#d9f03a" stroke-width="1.6"/> <circle r="15.9" fill="none" stroke="#1c1830" stroke-width="1.8"/> <ellipse cx="-4.9" cy="-3.1" rx="1.75" ry="2.9" fill="#0c0c30"/> <ellipse cx="4.9" cy="-3.1" rx="1.75" ry="2.9" fill="#0c0c30"/> <path d="M-8.8,5.9 Q0,12.6 8.6,5.9" fill="none" stroke="#141438" stroke-width="2.2" stroke-linecap="round"/></g>
<g transform="translate(327.6,457.4) scale(1,0.975)"> <circle r="15.2" fill="#f5a23a"/> <circle r="14.4" fill="none" stroke="#ffa020" stroke-width="1.4"/> <circle r="15.9" fill="none" stroke="#1c1424" stroke-width="1.8"/> <ellipse cx="-4.9" cy="-3.1" rx="1.75" ry="2.9" fill="#0c0c30"/> <ellipse cx="4.9" cy="-3.1" rx="1.75" ry="2.9" fill="#0c0c30"/> <path d="M-9.3,5.4 L9.3,5.4" fill="none" stroke="#a87a40" stroke-width="2.2"/></g>
<g transform="translate(364.4,457.4) scale(1,0.975)"> <circle r="15.2" fill="#de2d3a"/> <circle r="14.3" fill="none" stroke="#f51c24" stroke-width="1.6"/> <circle r="15.9" fill="none" stroke="#141818" stroke-width="1.8"/> <ellipse cx="-4.8" cy="-3.1" rx="1.75" ry="2.9" fill="#0a2a2a"/> <ellipse cx="4.8" cy="-3.1" rx="1.75" ry="2.9" fill="#0a2a2a"/> <path d="M-8.2,9 Q0,3 8.2,9" fill="none" stroke="#a83838" stroke-width="2.2" stroke-linecap="round"/></g>
<g transform="translate(406.7,457.4) scale(1,0.975)"> <circle r="15.2" fill="#c7dc58"/> <circle r="14.3" fill="none" stroke="#d9f03a" stroke-width="1.6"/> <circle r="15.9" fill="none" stroke="#1c1830" stroke-width="1.8"/> <ellipse cx="-4.9" cy="-3.1" rx="1.75" ry="2.9" fill="#0c0c30"/> <ellipse cx="4.9" cy="-3.1" rx="1.75" ry="2.9" fill="#0c0c30"/> <path d="M-8.8,5.9 Q0,12.6 8.6,5.9" fill="none" stroke="#141438" stroke-width="2.2" stroke-linecap="round"/></g>
<g transform="translate(443.5,457.4) scale(1,0.975)"> <circle r="15.2" fill="#f5a23a"/> <circle r="14.4" fill="none" stroke="#ffa020" stroke-width="1.4"/> <circle r="15.9" fill="none" stroke="#1c1424" stroke-width="1.8"/> <ellipse cx="-4.9" cy="-3.1" rx="1.75" ry="2.9" fill="#0c0c30"/> <ellipse cx="4.9" cy="-3.1" rx="1.75" ry="2.9" fill="#0c0c30"/> <path d="M-9.3,5.4 L9.3,5.4" fill="none" stroke="#a87a40" stroke-width="2.2"/></g>
<g transform="translate(480.3,457.4) scale(1,0.975)"> <circle r="15.2" fill="#de2d3a"/> <circle r="14.3" fill="none" stroke="#f51c24" stroke-width="1.6"/> <circle r="15.9" fill="none" stroke="#141818" stroke-width="1.8"/> <ellipse cx="-4.8" cy="-3.1" rx="1.75" ry="2.9" fill="#0a2a2a"/> <ellipse cx="4.8" cy="-3.1" rx="1.75" ry="2.9" fill="#0a2a2a"/> <path d="M-8.2,9 Q0,3 8.2,9" fill="none" stroke="#a83838" stroke-width="2.2" stroke-linecap="round"/></g>
<g transform="translate(522.5,457.4) scale(1,0.975)"> <circle r="15.2" fill="#c7dc58"/> <circle r="14.3" fill="none" stroke="#d9f03a" stroke-width="1.6"/> <circle r="15.9" fill="none" stroke="#1c1830" stroke-width="1.8"/> <ellipse cx="-4.9" cy="-3.1" rx="1.75" ry="2.9" fill="#0c0c30"/> <ellipse cx="4.9" cy="-3.1" rx="1.75" ry="2.9" fill="#0c0c30"/> <path d="M-8.8,5.9 Q0,12.6 8.6,5.9" fill="none" stroke="#141438" stroke-width="2.2" stroke-linecap="round"/></g>
<g transform="translate(559.3,457.4) scale(1,0.975)"> <circle r="15.2" fill="#f5a23a"/> <circle r="14.4" fill="none" stroke="#ffa020" stroke-width="1.4"/> <circle r="15.9" fill="none" stroke="#1c1424" stroke-width="1.8"/> <ellipse cx="-4.9" cy="-3.1" rx="1.75" ry="2.9" fill="#0c0c30"/> <ellipse cx="4.9" cy="-3.1" rx="1.75" ry="2.9" fill="#0c0c30"/> <path d="M-9.3,5.4 L9.3,5.4" fill="none" stroke="#a87a40" stroke-width="2.2"/></g>
<g transform="translate(596.1,457.4) scale(1,0.975)"> <circle r="15.2" fill="#de2d3a"/> <circle r="14.3" fill="none" stroke="#f51c24" stroke-width="1.6"/> <circle r="15.9" fill="none" stroke="#141818" stroke-width="1.8"/> <ellipse cx="-4.8" cy="-3.1" rx="1.75" ry="2.9" fill="#0a2a2a"/> <ellipse cx="4.8" cy="-3.1" rx="1.75" ry="2.9" fill="#0a2a2a"/> <path d="M-8.2,9 Q0,3 8.2,9" fill="none" stroke="#a83838" stroke-width="2.2" stroke-linecap="round"/></g>
<g transform="translate(638.5,457.4) scale(1,0.975)"> <circle r="15.2" fill="#c7dc58"/> <circle r="14.3" fill="none" stroke="#d9f03a" stroke-width="1.6"/> <circle r="15.9" fill="none" stroke="#1c1830" stroke-width="1.8"/> <ellipse cx="-4.9" cy="-3.1" rx="1.75" ry="2.9" fill="#0c0c30"/> <ellipse cx="4.9" cy="-3.1" rx="1.75" ry="2.9" fill="#0c0c30"/> <path d="M-8.8,5.9 Q0,12.6 8.6,5.9" fill="none" stroke="#141438" stroke-width="2.2" stroke-linecap="round"/></g>
<g transform="translate(675.2,457.4) scale(1,0.975)"> <circle r="15.2" fill="#f5a23a"/> <circle r="14.4" fill="none" stroke="#ffa020" stroke-width="1.4"/> <circle r="15.9" fill="none" stroke="#1c1424" stroke-width="1.8"/> <ellipse cx="-4.9" cy="-3.1" rx="1.75" ry="2.9" fill="#0c0c30"/> <ellipse cx="4.9" cy="-3.1" rx="1.75" ry="2.9" fill="#0c0c30"/> <path d="M-9.3,5.4 L9.3,5.4" fill="none" stroke="#a87a40" stroke-width="2.2"/></g>
<g transform="translate(712.0,457.4) scale(1,0.975)"> <circle r="15.2" fill="#de2d3a"/> <circle r="14.3" fill="none" stroke="#f51c24" stroke-width="1.6"/> <circle r="15.9" fill="none" stroke="#141818" stroke-width="1.8"/> <ellipse cx="-4.8" cy="-3.1" rx="1.75" ry="2.9" fill="#0a2a2a"/> <ellipse cx="4.8" cy="-3.1" rx="1.75" ry="2.9" fill="#0a2a2a"/> <path d="M-8.2,9 Q0,3 8.2,9" fill="none" stroke="#a83838" stroke-width="2.2" stroke-linecap="round"/></g>
<g transform="translate(174.9,543.3) scale(1,0.975)"> <circle r="15.2" fill="#c7dc58"/> <circle r="14.3" fill="none" stroke="#d9f03a" stroke-width="1.6"/> <circle r="15.9" fill="none" stroke="#1c1830" stroke-width="1.8"/> <ellipse cx="-4.9" cy="-3.1" rx="1.75" ry="2.9" fill="#0c0c30"/> <ellipse cx="4.9" cy="-3.1" rx="1.75" ry="2.9" fill="#0c0c30"/> <path d="M-8.8,5.9 Q0,12.6 8.6,5.9" fill="none" stroke="#141438" stroke-width="2.2" stroke-linecap="round"/></g>
<g transform="translate(211.7,543.3) scale(1,0.975)"> <circle r="15.2" fill="#f5a23a"/> <circle r="14.4" fill="none" stroke="#ffa020" stroke-width="1.4"/> <circle r="15.9" fill="none" stroke="#1c1424" stroke-width="1.8"/> <ellipse cx="-4.9" cy="-3.1" rx="1.75" ry="2.9" fill="#0c0c30"/> <ellipse cx="4.9" cy="-3.1" rx="1.75" ry="2.9" fill="#0c0c30"/> <path d="M-9.3,5.4 L9.3,5.4" fill="none" stroke="#a87a40" stroke-width="2.2"/></g>
<g transform="translate(248.5,543.3) scale(1,0.975)"> <circle r="15.2" fill="#de2d3a"/> <circle r="14.3" fill="none" stroke="#f51c24" stroke-width="1.6"/> <circle r="15.9" fill="none" stroke="#141818" stroke-width="1.8"/> <ellipse cx="-4.8" cy="-3.1" rx="1.75" ry="2.9" fill="#0a2a2a"/> <ellipse cx="4.8" cy="-3.1" rx="1.75" ry="2.9" fill="#0a2a2a"/> <path d="M-8.2,9 Q0,3 8.2,9" fill="none" stroke="#a83838" stroke-width="2.2" stroke-linecap="round"/></g>
<g transform="translate(290.8,543.3) scale(1,0.975)"> <circle r="15.2" fill="#c7dc58"/> <circle r="14.3" fill="none" stroke="#d9f03a" stroke-width="1.6"/> <circle r="15.9" fill="none" stroke="#1c1830" stroke-width="1.8"/> <ellipse cx="-4.9" cy="-3.1" rx="1.75" ry="2.9" fill="#0c0c30"/> <ellipse cx="4.9" cy="-3.1" rx="1.75" ry="2.9" fill="#0c0c30"/> <path d="M-8.8,5.9 Q0,12.6 8.6,5.9" fill="none" stroke="#141438" stroke-width="2.2" stroke-linecap="round"/></g>
<g transform="translate(327.6,543.3) scale(1,0.975)"> <circle r="15.2" fill="#f5a23a"/> <circle r="14.4" fill="none" stroke="#ffa020" stroke-width="1.4"/> <circle r="15.9" fill="none" stroke="#1c1424" stroke-width="1.8"/> <ellipse cx="-4.9" cy="-3.1" rx="1.75" ry="2.9" fill="#0c0c30"/> <ellipse cx="4.9" cy="-3.1" rx="1.75" ry="2.9" fill="#0c0c30"/> <path d="M-9.3,5.4 L9.3,5.4" fill="none" stroke="#a87a40" stroke-width="2.2"/></g>
<g transform="translate(364.4,543.3) scale(1,0.975)"> <circle r="15.2" fill="#de2d3a"/> <circle r="14.3" fill="none" stroke="#f51c24" stroke-width="1.6"/> <circle r="15.9" fill="none" stroke="#141818" stroke-width="1.8"/> <ellipse cx="-4.8" cy="-3.1" rx="1.75" ry="2.9" fill="#0a2a2a"/> <ellipse cx="4.8" cy="-3.1" rx="1.75" ry="2.9" fill="#0a2a2a"/> <path d="M-8.2,9 Q0,3 8.2,9" fill="none" stroke="#a83838" stroke-width="2.2" stroke-linecap="round"/></g>
<g transform="translate(406.7,543.3) scale(1,0.975)"> <circle r="15.2" fill="#c7dc58"/> <circle r="14.3" fill="none" stroke="#d9f03a" stroke-width="1.6"/> <circle r="15.9" fill="none" stroke="#1c1830" stroke-width="1.8"/> <ellipse cx="-4.9" cy="-3.1" rx="1.75" ry="2.9" fill="#0c0c30"/> <ellipse cx="4.9" cy="-3.1" rx="1.75" ry="2.9" fill="#0c0c30"/> <path d="M-8.8,5.9 Q0,12.6 8.6,5.9" fill="none" stroke="#141438" stroke-width="2.2" stroke-linecap="round"/></g>
<g transform="translate(443.5,543.3) scale(1,0.975)"> <circle r="15.2" fill="#f5a23a"/> <circle r="14.4" fill="none" stroke="#ffa020" stroke-width="1.4"/> <circle r="15.9" fill="none" stroke="#1c1424" stroke-width="1.8"/> <ellipse cx="-4.9" cy="-3.1" rx="1.75" ry="2.9" fill="#0c0c30"/> <ellipse cx="4.9" cy="-3.1" rx="1.75" ry="2.9" fill="#0c0c30"/> <path d="M-9.3,5.4 L9.3,5.4" fill="none" stroke="#a87a40" stroke-width="2.2"/></g>
<g transform="translate(480.3,543.3) scale(1,0.975)"> <circle r="15.2" fill="#de2d3a"/> <circle r="14.3" fill="none" stroke="#f51c24" stroke-width="1.6"/> <circle r="15.9" fill="none" stroke="#141818" stroke-width="1.8"/> <ellipse cx="-4.8" cy="-3.1" rx="1.75" ry="2.9" fill="#0a2a2a"/> <ellipse cx="4.8" cy="-3.1" rx="1.75" ry="2.9" fill="#0a2a2a"/> <path d="M-8.2,9 Q0,3 8.2,9" fill="none" stroke="#a83838" stroke-width="2.2" stroke-linecap="round"/></g>
<g transform="translate(522.5,543.3) scale(1,0.975)"> <circle r="15.2" fill="#c7dc58"/> <circle r="14.3" fill="none" stroke="#d9f03a" stroke-width="1.6"/> <circle r="15.9" fill="none" stroke="#1c1830" stroke-width="1.8"/> <ellipse cx="-4.9" cy="-3.1" rx="1.75" ry="2.9" fill="#0c0c30"/> <ellipse cx="4.9" cy="-3.1" rx="1.75" ry="2.9" fill="#0c0c30"/> <path d="M-8.8,5.9 Q0,12.6 8.6,5.9" fill="none" stroke="#141438" stroke-width="2.2" stroke-linecap="round"/></g>
<g transform="translate(559.3,543.3) scale(1,0.975)"> <circle r="15.2" fill="#f5a23a"/> <circle r="14.4" fill="none" stroke="#ffa020" stroke-width="1.4"/> <circle r="15.9" fill="none" stroke="#1c1424" stroke-width="1.8"/> <ellipse cx="-4.9" cy="-3.1" rx="1.75" ry="2.9" fill="#0c0c30"/> <ellipse cx="4.9" cy="-3.1" rx="1.75" ry="2.9" fill="#0c0c30"/> <path d="M-9.3,5.4 L9.3,5.4" fill="none" stroke="#a87a40" stroke-width="2.2"/></g>
<g transform="translate(596.1,543.3) scale(1,0.975)"> <circle r="15.2" fill="#de2d3a"/> <circle r="14.3" fill="none" stroke="#f51c24" stroke-width="1.6"/> <circle r="15.9" fill="none" stroke="#141818" stroke-width="1.8"/> <ellipse cx="-4.8" cy="-3.1" rx="1.75" ry="2.9" fill="#0a2a2a"/> <ellipse cx="4.8" cy="-3.1" rx="1.75" ry="2.9" fill="#0a2a2a"/> <path d="M-8.2,9 Q0,3 8.2,9" fill="none" stroke="#a83838" stroke-width="2.2" stroke-linecap="round"/></g>
<g transform="translate(638.5,543.3) scale(1,0.975)"> <circle r="15.2" fill="#c7dc58"/> <circle r="14.3" fill="none" stroke="#d9f03a" stroke-width="1.6"/> <circle r="15.9" fill="none" stroke="#1c1830" stroke-width="1.8"/> <ellipse cx="-4.9" cy="-3.1" rx="1.75" ry="2.9" fill="#0c0c30"/> <ellipse cx="4.9" cy="-3.1" rx="1.75" ry="2.9" fill="#0c0c30"/> <path d="M-8.8,5.9 Q0,12.6 8.6,5.9" fill="none" stroke="#141438" stroke-width="2.2" stroke-linecap="round"/></g>
<g transform="translate(675.2,543.3) scale(1,0.975)"> <circle r="15.2" fill="#f5a23a"/> <circle r="14.4" fill="none" stroke="#ffa020" stroke-width="1.4"/> <circle r="15.9" fill="none" stroke="#1c1424" stroke-width="1.8"/> <ellipse cx="-4.9" cy="-3.1" rx="1.75" ry="2.9" fill="#0c0c30"/> <ellipse cx="4.9" cy="-3.1" rx="1.75" ry="2.9" fill="#0c0c30"/> <path d="M-9.3,5.4 L9.3,5.4" fill="none" stroke="#a87a40" stroke-width="2.2"/></g>
<g transform="translate(712.0,543.3) scale(1,0.975)"> <circle r="15.2" fill="#de2d3a"/> <circle r="14.3" fill="none" stroke="#f51c24" stroke-width="1.6"/> <circle r="15.9" fill="none" stroke="#141818" stroke-width="1.8"/> <ellipse cx="-4.8" cy="-3.1" rx="1.75" ry="2.9" fill="#0a2a2a"/> <ellipse cx="4.8" cy="-3.1" rx="1.75" ry="2.9" fill="#0a2a2a"/> <path d="M-8.2,9 Q0,3 8.2,9" fill="none" stroke="#a83838" stroke-width="2.2" stroke-linecap="round"/></g>
<g transform="translate(174.9,632.6) scale(1,0.975)"> <circle r="15.2" fill="#c7dc58"/> <circle r="14.3" fill="none" stroke="#d9f03a" stroke-width="1.6"/> <circle r="15.9" fill="none" stroke="#1c1830" stroke-width="1.8"/> <ellipse cx="-4.9" cy="-3.1" rx="1.75" ry="2.9" fill="#0c0c30"/> <ellipse cx="4.9" cy="-3.1" rx="1.75" ry="2.9" fill="#0c0c30"/> <path d="M-8.8,5.9 Q0,12.6 8.6,5.9" fill="none" stroke="#141438" stroke-width="2.2" stroke-linecap="round"/></g>
<g transform="translate(211.7,632.6) scale(1,0.975)"> <circle r="15.2" fill="#f5a23a"/> <circle r="14.4" fill="none" stroke="#ffa020" stroke-width="1.4"/> <circle r="15.9" fill="none" stroke="#1c1424" stroke-width="1.8"/> <ellipse cx="-4.9" cy="-3.1" rx="1.75" ry="2.9" fill="#0c0c30"/> <ellipse cx="4.9" cy="-3.1" rx="1.75" ry="2.9" fill="#0c0c30"/> <path d="M-9.3,5.4 L9.3,5.4" fill="none" stroke="#a87a40" stroke-width="2.2"/></g>
<g transform="translate(248.5,632.6) scale(1,0.975)"> <circle r="15.2" fill="#de2d3a"/> <circle r="14.3" fill="none" stroke="#f51c24" stroke-width="1.6"/> <circle r="15.9" fill="none" stroke="#141818" stroke-width="1.8"/> <ellipse cx="-4.8" cy="-3.1" rx="1.75" ry="2.9" fill="#0a2a2a"/> <ellipse cx="4.8" cy="-3.1" rx="1.75" ry="2.9" fill="#0a2a2a"/> <path d="M-8.2,9 Q0,3 8.2,9" fill="none" stroke="#a83838" stroke-width="2.2" stroke-linecap="round"/></g>
<g transform="translate(290.8,632.6) scale(1,0.975)"> <circle r="15.2" fill="#c7dc58"/> <circle r="14.3" fill="none" stroke="#d9f03a" stroke-width="1.6"/> <circle r="15.9" fill="none" stroke="#1c1830" stroke-width="1.8"/> <ellipse cx="-4.9" cy="-3.1" rx="1.75" ry="2.9" fill="#0c0c30"/> <ellipse cx="4.9" cy="-3.1" rx="1.75" ry="2.9" fill="#0c0c30"/> <path d="M-8.8,5.9 Q0,12.6 8.6,5.9" fill="none" stroke="#141438" stroke-width="2.2" stroke-linecap="round"/></g>
<g transform="translate(327.6,632.6) scale(1,0.975)"> <circle r="15.2" fill="#f5a23a"/> <circle r="14.4" fill="none" stroke="#ffa020" stroke-width="1.4"/> <circle r="15.9" fill="none" stroke="#1c1424" stroke-width="1.8"/> <ellipse cx="-4.9" cy="-3.1" rx="1.75" ry="2.9" fill="#0c0c30"/> <ellipse cx="4.9" cy="-3.1" rx="1.75" ry="2.9" fill="#0c0c30"/> <path d="M-9.3,5.4 L9.3,5.4" fill="none" stroke="#a87a40" stroke-width="2.2"/></g>
<g transform="translate(364.4,632.6) scale(1,0.975)"> <circle r="15.2" fill="#de2d3a"/> <circle r="14.3" fill="none" stroke="#f51c24" stroke-width="1.6"/> <circle r="15.9" fill="none" stroke="#141818" stroke-width="1.8"/> <ellipse cx="-4.8" cy="-3.1" rx="1.75" ry="2.9" fill="#0a2a2a"/> <ellipse cx="4.8" cy="-3.1" rx="1.75" ry="2.9" fill="#0a2a2a"/> <path d="M-8.2,9 Q0,3 8.2,9" fill="none" stroke="#a83838" stroke-width="2.2" stroke-linecap="round"/></g>
<g transform="translate(406.7,632.6) scale(1,0.975)"> <circle r="15.2" fill="#c7dc58"/> <circle r="14.3" fill="none" stroke="#d9f03a" stroke-width="1.6"/> <circle r="15.9" fill="none" stroke="#1c1830" stroke-width="1.8"/> <ellipse cx="-4.9" cy="-3.1" rx="1.75" ry="2.9" fill="#0c0c30"/> <ellipse cx="4.9" cy="-3.1" rx="1.75" ry="2.9" fill="#0c0c30"/> <path d="M-8.8,5.9 Q0,12.6 8.6,5.9" fill="none" stroke="#141438" stroke-width="2.2" stroke-linecap="round"/></g>
<g transform="translate(443.5,632.6) scale(1,0.975)"> <circle r="15.2" fill="#f5a23a"/> <circle r="14.4" fill="none" stroke="#ffa020" stroke-width="1.4"/> <circle r="15.9" fill="none" stroke="#1c1424" stroke-width="1.8"/> <ellipse cx="-4.9" cy="-3.1" rx="1.75" ry="2.9" fill="#0c0c30"/> <ellipse cx="4.9" cy="-3.1" rx="1.75" ry="2.9" fill="#0c0c30"/> <path d="M-9.3,5.4 L9.3,5.4" fill="none" stroke="#a87a40" stroke-width="2.2"/></g>
<g transform="translate(480.3,632.6) scale(1,0.975)"> <circle r="15.2" fill="#de2d3a"/> <circle r="14.3" fill="none" stroke="#f51c24" stroke-width="1.6"/> <circle r="15.9" fill="none" stroke="#141818" stroke-width="1.8"/> <ellipse cx="-4.8" cy="-3.1" rx="1.75" ry="2.9" fill="#0a2a2a"/> <ellipse cx="4.8" cy="-3.1" rx="1.75" ry="2.9" fill="#0a2a2a"/> <path d="M-8.2,9 Q0,3 8.2,9" fill="none" stroke="#a83838" stroke-width="2.2" stroke-linecap="round"/></g>
<g transform="translate(522.5,632.6) scale(1,0.975)"> <circle r="15.2" fill="#c7dc58"/> <circle r="14.3" fill="none" stroke="#d9f03a" stroke-width="1.6"/> <circle r="15.9" fill="none" stroke="#1c1830" stroke-width="1.8"/> <ellipse cx="-4.9" cy="-3.1" rx="1.75" ry="2.9" fill="#0c0c30"/> <ellipse cx="4.9" cy="-3.1" rx="1.75" ry="2.9" fill="#0c0c30"/> <path d="M-8.8,5.9 Q0,12.6 8.6,5.9" fill="none" stroke="#141438" stroke-width="2.2" stroke-linecap="round"/></g>
<g transform="translate(559.3,632.6) scale(1,0.975)"> <circle r="15.2" fill="#f5a23a"/> <circle r="14.4" fill="none" stroke="#ffa020" stroke-width="1.4"/> <circle r="15.9" fill="none" stroke="#1c1424" stroke-width="1.8"/> <ellipse cx="-4.9" cy="-3.1" rx="1.75" ry="2.9" fill="#0c0c30"/> <ellipse cx="4.9" cy="-3.1" rx="1.75" ry="2.9" fill="#0c0c30"/> <path d="M-9.3,5.4 L9.3,5.4" fill="none" stroke="#a87a40" stroke-width="2.2"/></g>
<g transform="translate(596.1,632.6) scale(1,0.975)"> <circle r="15.2" fill="#de2d3a"/> <circle r="14.3" fill="none" stroke="#f51c24" stroke-width="1.6"/> <circle r="15.9" fill="none" stroke="#141818" stroke-width="1.8"/> <ellipse cx="-4.8" cy="-3.1" rx="1.75" ry="2.9" fill="#0a2a2a"/> <ellipse cx="4.8" cy="-3.1" rx="1.75" ry="2.9" fill="#0a2a2a"/> <path d="M-8.2,9 Q0,3 8.2,9" fill="none" stroke="#a83838" stroke-width="2.2" stroke-linecap="round"/></g>
<g transform="translate(638.5,632.6) scale(1,0.975)"> <circle r="15.2" fill="#c7dc58"/> <circle r="14.3" fill="none" stroke="#d9f03a" stroke-width="1.6"/> <circle r="15.9" fill="none" stroke="#1c1830" stroke-width="1.8"/> <ellipse cx="-4.9" cy="-3.1" rx="1.75" ry="2.9" fill="#0c0c30"/> <ellipse cx="4.9" cy="-3.1" rx="1.75" ry="2.9" fill="#0c0c30"/> <path d="M-8.8,5.9 Q0,12.6 8.6,5.9" fill="none" stroke="#141438" stroke-width="2.2" stroke-linecap="round"/></g>
<g transform="translate(675.2,632.6) scale(1,0.975)"> <circle r="15.2" fill="#f5a23a"/> <circle r="14.4" fill="none" stroke="#ffa020" stroke-width="1.4"/> <circle r="15.9" fill="none" stroke="#1c1424" stroke-width="1.8"/> <ellipse cx="-4.9" cy="-3.1" rx="1.75" ry="2.9" fill="#0c0c30"/> <ellipse cx="4.9" cy="-3.1" rx="1.75" ry="2.9" fill="#0c0c30"/> <path d="M-9.3,5.4 L9.3,5.4" fill="none" stroke="#a87a40" stroke-width="2.2"/></g>
<g transform="translate(712.0,632.6) scale(1,0.975)"> <circle r="15.2" fill="#de2d3a"/> <circle r="14.3" fill="none" stroke="#f51c24" stroke-width="1.6"/> <circle r="15.9" fill="none" stroke="#141818" stroke-width="1.8"/> <ellipse cx="-4.8" cy="-3.1" rx="1.75" ry="2.9" fill="#0a2a2a"/> <ellipse cx="4.8" cy="-3.1" rx="1.75" ry="2.9" fill="#0a2a2a"/> <path d="M-8.2,9 Q0,3 8.2,9" fill="none" stroke="#a83838" stroke-width="2.2" stroke-linecap="round"/></g>
<path d="M38.5,702.4H733.9000000000001V825.3H38.5ZM618.0,702.4V825.3" fill="none" stroke="#050f58" stroke-width="2.6"/>
<text transform="translate(49.18,730.50) scale(0.9665,1)" font-family="Liberation Sans" font-weight="bold" font-size="17.3" fill="#141414" >Comments:</text>
<text transform="translate(625.67,726.70) scale(1.0667,1)" font-family="Liberation Sans" font-weight="bold" font-size="17.3" fill="#141414" >Total</text>
<text transform="translate(624.65,749.80) scale(1.0224,1)" font-family="Liberation Sans" font-weight="bold" font-size="17.3" fill="#141414" >Points:</text>
<rect x="42.0" y="856.5" width="688.4" height="34.4" fill="#d0e9fb"/>
<path d="M38.5,853.0H733.9000000000001V963.2H38.5ZM38.5,894.4H733.9000000000001" fill="none" stroke="#050f58" stroke-width="2.6"/>
<text transform="translate(48.89,880.30) scale(0.9740,1)" font-family="Liberation Sans" font-weight="normal" font-size="17.9" fill="#141414" stroke="#141414" stroke-width="0.9" >Key Table</text>
<text transform="translate(49.21,936.80) scale(0.8629,1)" font-family="Liberation Sans" font-weight="normal" font-size="17.5" fill="#141414" stroke="#141414" stroke-width="1.0" >Happy</text>
<text transform="translate(139.23,936.80) scale(0.9095,1)" font-family="Liberation Sans" font-weight="normal" font-size="17.5" fill="#141414" stroke="#141414" stroke-width="1.0" >&#8226; Two Points</text>
<text transform="translate(284.69,936.80) scale(0.8788,1)" font-family="Liberation Sans" font-weight="normal" font-size="17.5" fill="#141414" stroke="#141414" stroke-width="1.0" >Medium</text>
<text transform="translate(384.45,936.80) scale(0.8783,1)" font-family="Liberation Sans" font-weight="normal" font-size="17.5" fill="#141414" stroke="#141414" stroke-width="1.0" >&#8226; One Point</text>
<text transform="translate(520.45,936.80) scale(0.9122,1)" font-family="Liberation Sans" font-weight="normal" font-size="17.5" fill="#141414" stroke="#141414" stroke-width="1.0" >Frowning</text>
<text transform="translate(631.54,936.80) scale(0.8958,1)" font-family="Liberation Sans" font-weight="normal" font-size="17.5" fill="#141414" stroke="#141414" stroke-width="1.0" >&#8226; No Points</text>
<g transform="translate(117.6,932.7) scale(1,0.975)"> <circle r="15.2" fill="#c7dc58"/> <circle r="14.3" fill="none" stroke="#d9f03a" stroke-width="1.6"/> <circle r="15.9" fill="none" stroke="#1c1830" stroke-width="1.8"/> <ellipse cx="-4.9" cy="-3.1" rx="1.75" ry="2.9" fill="#0c0c30"/> <ellipse cx="4.9" cy="-3.1" rx="1.75" ry="2.9" fill="#0c0c30"/> <path d="M-8.8,5.9 Q0,12.6 8.6,5.9" fill="none" stroke="#141438" stroke-width="2.2" stroke-linecap="round"/></g>
<g transform="translate(360.7,932.7) scale(1,0.975)"> <circle r="15.2" fill="#f5a23a"/> <circle r="14.4" fill="none" stroke="#ffa020" stroke-width="1.4"/> <circle r="15.9" fill="none" stroke="#1c1424" stroke-width="1.8"/> <ellipse cx="-4.9" cy="-3.1" rx="1.75" ry="2.9" fill="#0c0c30"/> <ellipse cx="4.9" cy="-3.1" rx="1.75" ry="2.9" fill="#0c0c30"/> <path d="M-9.3,5.4 L9.3,5.4" fill="none" stroke="#a87a40" stroke-width="2.2"/></g>
<g transform="translate(607.7,932.7) scale(1,0.975)"> <circle r="15.2" fill="#de2d3a"/> <circle r="14.3" fill="none" stroke="#f51c24" stroke-width="1.6"/> <circle r="15.9" fill="none" stroke="#141818" stroke-width="1.8"/> <ellipse cx="-4.8" cy="-3.1" rx="1.75" ry="2.9" fill="#0a2a2a"/> <ellipse cx="4.8" cy="-3.1" rx="1.75" ry="2.9" fill="#0a2a2a"/> <path d="M-8.2,9 Q0,3 8.2,9" fill="none" stroke="#a83838" stroke-width="2.2" stroke-linecap="round"/></g>
<path d="M37.5,1011.5H733" stroke="#1488e0" stroke-width="4" stroke-linecap="round"/>
<g fill="#1a8ee6"><ellipse cx="66" cy="1038" rx="26" ry="13"/><circle cx="48" cy="1033" r="11"/><circle cx="62" cy="1026" r="9"/><circle cx="76" cy="1027" r="10"/><circle cx="88" cy="1034" r="8"/><circle cx="58" cy="1047" r="9.5"/><circle cx="75" cy="1047" r="8"/></g>
<text transform="translate(43.88,1043.00) scale(0.9972,1)" font-family="Liberation Sans" font-weight="bold" font-size="16" fill="#fff" >twinkl</text>
<text transform="translate(602.40,1040.50) scale(0.7858,1)" font-family="Liberation Sans" font-weight="bold" font-size="12" fill="#1a7ee0" stroke="#1a7ee0" stroke-width="0.8" >visit twinkl.com.au</text>
<rect x="693" y="1016" width="44" height="41" fill="#fff" stroke="#cfe6f8" stroke-width="1.5"/><g fill="#1a7fe0"><circle cx="706" cy="1029" r="8"/><circle cx="716" cy="1024" r="8"/><circle cx="726" cy="1029" r="8"/><circle cx="716" cy="1033" r="7"/></g><path d="M697,1045H729M703,1051H722" stroke="#7fb8ec" stroke-width="2"/><path d="M727,1053L739,1043" stroke="#1a7fe0" stroke-width="3" stroke-linecap="round"/></svg>
</div>
<svg width="1260" height="630" style="position:absolute;left:0;top:0" viewBox="0 0 1260 630">
<rect x="966.4" y="531" width="300" height="64.6" rx="2.5" fill="#77ac45" stroke="#4a9a20" stroke-width="0.8"/>
<text transform="translate(983.56,573.80) scale(0.9440,1)" font-family="Liberation Sans" font-weight="normal" font-size="35" fill="#fff" stroke="#3a9a18" stroke-width="3.4" stroke-linejoin="round">ink</text>
<text transform="translate(1036.99,573.80) scale(0.9061,1)" font-family="Liberation Sans" font-weight="normal" font-size="35" fill="#fff" stroke="#3a9a18" stroke-width="3.4" stroke-linejoin="round">saving</text>
<text transform="translate(983.56,573.80) scale(0.9440,1)" font-family="Liberation Sans" font-weight="normal" font-size="35" fill="#fff" stroke="#fff" stroke-width="0.7">ink</text>
<text transform="translate(1036.99,573.80) scale(0.9061,1)" font-family="Liberation Sans" font-weight="normal" font-size="35" fill="#fff" stroke="#fff" stroke-width="0.7">saving</text>
<path d="M1184.5,482.7 Q1170,512 1152,545 Q1146.5,555 1146.5,565 C1146.5,586 1163.5,603.2 1184.5,603.2 C1205.5,603.2 1222.5,586 1222.5,565 Q1222.5,555 1217,545 Q1199,512 1184.5,482.7Z" fill="#8bc24b" stroke="#6cae2c" stroke-width="1.5"/>
<path d="M1186,533V603" stroke="#b9dc98" stroke-width="4"/>
<path d="M1186.5,603V615.5" stroke="#7ec23e" stroke-width="4.5"/>
<text transform="translate(1158.46,571.50) scale(0.9143,1)" font-family="Liberation Sans" font-weight="bold" font-size="32.4" fill="#fff" stroke="#5aa028" stroke-width="2.2" stroke-linejoin="round">Eco</text>
<text transform="translate(1158.46,571.50) scale(0.9143,1)" font-family="Liberation Sans" font-weight="bold" font-size="32.4" fill="#fff" >Eco</text>
</svg>
</body></html>
